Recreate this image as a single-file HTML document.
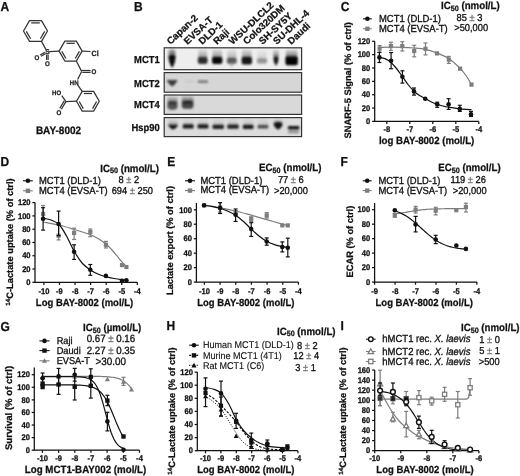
<!DOCTYPE html>
<html><head><meta charset="utf-8"><style>
html,body{margin:0;padding:0;background:#fff;}
svg{display:block;text-rendering:geometricPrecision;}
</style></head><body>
<svg width="520" height="476" viewBox="0 0 520 476" font-family="'Liberation Sans', Arial, sans-serif">
<rect width="520" height="476" fill="#fff"/>
<text font-size="12.0" font-weight="bold" fill="#111" stroke="#111" stroke-width="0.25" transform="translate(0.60 11.20) scale(1,1.08)">A</text>
<path d="M47.50,31.00 L41.50,41.39 L29.50,41.39 L23.50,31.00 L29.50,20.61 L41.50,20.61Z" fill="none" stroke="#333" stroke-width="1.25" stroke-linejoin="round"/>
<line x1="44.67" y1="31.32" x2="40.37" y2="38.78" stroke="#333" stroke-width="1.25"/>
<line x1="30.63" y1="38.78" x2="26.33" y2="31.32" stroke="#333" stroke-width="1.25"/>
<line x1="31.19" y1="22.89" x2="39.81" y2="22.89" stroke="#333" stroke-width="1.25"/>
<path d="M82.10,51.10 L76.35,61.06 L64.85,61.06 L59.10,51.10 L64.85,41.14 L76.35,41.14Z" fill="none" stroke="#333" stroke-width="1.25" stroke-linejoin="round"/>
<line x1="79.39" y1="51.41" x2="75.26" y2="58.56" stroke="#333" stroke-width="1.25"/>
<line x1="65.94" y1="58.56" x2="61.81" y2="51.41" stroke="#333" stroke-width="1.25"/>
<line x1="66.47" y1="43.33" x2="74.73" y2="43.33" stroke="#333" stroke-width="1.25"/>
<path d="M99.30,101.20 L93.60,111.07 L82.20,111.07 L76.50,101.20 L82.20,91.33 L93.60,91.33Z" fill="none" stroke="#333" stroke-width="1.25" stroke-linejoin="round"/>
<line x1="96.61" y1="101.51" x2="92.52" y2="108.59" stroke="#333" stroke-width="1.25"/>
<line x1="83.28" y1="108.59" x2="79.19" y2="101.51" stroke="#333" stroke-width="1.25"/>
<line x1="83.81" y1="93.50" x2="91.99" y2="93.50" stroke="#333" stroke-width="1.25"/>
<line x1="41.50" y1="41.39" x2="46.00" y2="49.60" stroke="#333" stroke-width="1.25"/>
<line x1="49.20" y1="51.60" x2="59.10" y2="51.10" stroke="#333" stroke-width="1.25"/>
<text font-size="6.6" font-weight="bold" text-anchor="middle" fill="#222" stroke="#222" stroke-width="0.25" transform="translate(47.50 54.30) scale(1,1.08)">S</text>
<line x1="44.90" y1="52.40" x2="40.20" y2="55.00" stroke="#333" stroke-width="1.25"/>
<line x1="45.60" y1="53.70" x2="40.90" y2="56.30" stroke="#333" stroke-width="1.25"/>
<text font-size="6.2" font-weight="bold" text-anchor="middle" fill="#222" stroke="#222" stroke-width="0.25" transform="translate(36.90 60.20) scale(1,1.08)">O</text>
<line x1="46.60" y1="54.60" x2="46.60" y2="60.00" stroke="#333" stroke-width="1.25"/>
<line x1="48.10" y1="54.60" x2="48.10" y2="60.00" stroke="#333" stroke-width="1.25"/>
<text font-size="6.2" font-weight="bold" text-anchor="middle" fill="#222" stroke="#222" stroke-width="0.25" transform="translate(47.30 65.80) scale(1,1.08)">O</text>
<line x1="82.10" y1="51.10" x2="90.60" y2="51.50" stroke="#333" stroke-width="1.25"/>
<text font-size="7.0" font-weight="bold" fill="#222" stroke="#222" stroke-width="0.25" transform="translate(91.60 55.60) scale(1,1.08)">Cl</text>
<line x1="76.35" y1="61.06" x2="81.60" y2="71.40" stroke="#333" stroke-width="1.25"/>
<line x1="81.60" y1="70.50" x2="90.60" y2="70.50" stroke="#333" stroke-width="1.25"/>
<line x1="82.40" y1="72.40" x2="90.60" y2="72.40" stroke="#333" stroke-width="1.25"/>
<text font-size="6.2" font-weight="bold" text-anchor="middle" fill="#222" stroke="#222" stroke-width="0.25" transform="translate(93.90 73.80) scale(1,1.08)">O</text>
<line x1="81.60" y1="71.40" x2="77.60" y2="79.60" stroke="#333" stroke-width="1.25"/>
<text font-size="6.0" font-weight="bold" text-anchor="middle" fill="#222" stroke="#222" stroke-width="0.25" transform="translate(74.20 84.60) scale(1,1.08)">HN</text>
<line x1="77.40" y1="84.60" x2="82.20" y2="91.33" stroke="#333" stroke-width="1.25"/>
<line x1="76.50" y1="101.20" x2="65.90" y2="101.60" stroke="#333" stroke-width="1.25"/>
<line x1="65.90" y1="101.60" x2="61.80" y2="95.60" stroke="#333" stroke-width="1.25"/>
<text font-size="6.0" font-weight="bold" text-anchor="middle" fill="#222" stroke="#222" stroke-width="0.25" transform="translate(56.60 94.50) scale(1,1.08)">HO</text>
<line x1="65.90" y1="101.60" x2="61.40" y2="109.20" stroke="#333" stroke-width="1.25"/>
<line x1="64.30" y1="100.80" x2="59.80" y2="108.40" stroke="#333" stroke-width="1.25"/>
<text font-size="6.2" font-weight="bold" text-anchor="middle" fill="#222" stroke="#222" stroke-width="0.25" transform="translate(59.00 114.60) scale(1,1.08)">O</text>
<text font-size="10.0" font-weight="bold" text-anchor="middle" fill="#111" stroke="#111" stroke-width="0.25" transform="translate(58.50 134.30) scale(1,1.08)">BAY-8002</text>
<text font-size="12.0" font-weight="bold" fill="#111" stroke="#111" stroke-width="0.25" transform="translate(134.00 10.80) scale(1,1.08)">B</text>
<text font-size="9.7" font-weight="bold" fill="#111" stroke="#111" stroke-width="0.25" transform="translate(170.50 45.00) rotate(-43) scale(1.0,1)">Capan-2</text>
<text font-size="9.7" font-weight="bold" fill="#111" stroke="#111" stroke-width="0.25" transform="translate(187.50 45.00) rotate(-43) scale(1.0,1)">EVSA-T</text>
<text font-size="9.7" font-weight="bold" fill="#111" stroke="#111" stroke-width="0.25" transform="translate(202.30 45.00) rotate(-43) scale(1.0,1)">DLD-1</text>
<text font-size="9.7" font-weight="bold" fill="#111" stroke="#111" stroke-width="0.25" transform="translate(217.00 45.00) rotate(-43) scale(1.0,1)">Raji</text>
<text font-size="9.7" font-weight="bold" fill="#111" stroke="#111" stroke-width="0.25" transform="translate(232.50 45.00) rotate(-43) scale(1.0,1)">WSU-DLCL2</text>
<text font-size="9.7" font-weight="bold" fill="#111" stroke="#111" stroke-width="0.25" transform="translate(246.80 45.00) rotate(-43) scale(1.0,1)">Colo320DM</text>
<text font-size="9.7" font-weight="bold" fill="#111" stroke="#111" stroke-width="0.25" transform="translate(262.50 45.00) rotate(-43) scale(1.0,1)">SH-SY5Y</text>
<text font-size="9.7" font-weight="bold" fill="#111" stroke="#111" stroke-width="0.25" transform="translate(276.80 45.00) rotate(-43) scale(1.0,1)">SU-DHL-4</text>
<text font-size="9.7" font-weight="bold" fill="#111" stroke="#111" stroke-width="0.25" transform="translate(291.30 45.00) rotate(-43) scale(1.0,1)">Daudi</text>
<defs><filter id="bl" x="-50%" y="-50%" width="200%" height="200%"><feGaussianBlur stdDeviation="1.1"/></filter><filter id="bl2" x="-50%" y="-50%" width="200%" height="200%"><feGaussianBlur stdDeviation="1.8"/></filter></defs>
<rect x="164.2" y="47.8" width="137.4" height="21.90" fill="#eeeeee" stroke="#333" stroke-width="1.2"/>
<text font-size="9.4" font-weight="bold" text-anchor="end" fill="#111" stroke="#111" stroke-width="0.25" transform="translate(159.60 63.25) scale(1,1.08)">MCT1</text>
<rect x="164.2" y="72.6" width="137.4" height="19.60" fill="#d6d6d6" stroke="#333" stroke-width="1.2"/>
<text font-size="9.4" font-weight="bold" text-anchor="end" fill="#111" stroke="#111" stroke-width="0.25" transform="translate(159.60 86.60) scale(1,1.08)">MCT2</text>
<rect x="164.2" y="95.0" width="137.4" height="19.40" fill="#d9d9d9" stroke="#333" stroke-width="1.2"/>
<text font-size="9.4" font-weight="bold" text-anchor="end" fill="#111" stroke="#111" stroke-width="0.25" transform="translate(159.60 108.40) scale(1,1.08)">MCT4</text>
<rect x="164.2" y="117.6" width="137.4" height="19.00" fill="#dcdcdc" stroke="#333" stroke-width="1.2"/>
<text font-size="9.4" font-weight="bold" text-anchor="end" fill="#111" stroke="#111" stroke-width="0.25" transform="translate(159.60 130.50) scale(1,1.08)">Hsp90</text>
<defs><linearGradient id="hg" x1="0" y1="0" x2="0" y2="1"><stop offset="0" stop-color="#000" stop-opacity="0.15"/><stop offset="1" stop-color="#000" stop-opacity="1"/></linearGradient></defs>
<rect x="168.20" y="49.20" width="7.40" height="8.80" rx="1.5" fill="url(#hg)" opacity="0.5" filter="url(#bl)"/>
<path d="M168.6,57.0 Q172.1,52.6 175.6,57.0 Q175.8,62.0 172.6,67.6 L171.8,67.6 Q168.4,62.0 168.6,57.0 Z" fill="#000" opacity="0.95" filter="url(#bl)"/>
<ellipse cx="172.10" cy="52.50" rx="2.75" ry="3.00" fill="#000" opacity="0.35" filter="url(#bl2)"/>
<rect x="198.30" y="49.60" width="8.80" height="9.60" rx="1.5" fill="url(#hg)" opacity="0.42" filter="url(#bl)"/>
<rect x="197.80" y="57.20" width="9.80" height="6.80" rx="2.2" fill="#000" opacity="0.8" filter="url(#bl)"/>
<rect x="212.50" y="49.60" width="9.40" height="9.40" rx="1.5" fill="url(#hg)" opacity="0.46" filter="url(#bl)"/>
<rect x="212.00" y="57.00" width="10.40" height="7.00" rx="2.2" fill="#000" opacity="0.97" filter="url(#bl)"/>
<rect x="227.30" y="49.60" width="9.00" height="10.40" rx="1.5" fill="url(#hg)" opacity="0.3" filter="url(#bl)"/>
<rect x="226.80" y="58.00" width="10.00" height="6.00" rx="2.2" fill="#000" opacity="0.58" filter="url(#bl)"/>
<rect x="242.10" y="49.60" width="9.40" height="9.40" rx="1.5" fill="url(#hg)" opacity="0.46" filter="url(#bl)"/>
<rect x="241.60" y="57.00" width="10.40" height="7.40" rx="2.2" fill="#000" opacity="0.9" filter="url(#bl)"/>
<rect x="257.30" y="49.60" width="9.40" height="10.80" rx="1.5" fill="url(#hg)" opacity="0.14" filter="url(#bl)"/>
<rect x="256.80" y="58.40" width="10.40" height="5.40" rx="2.2" fill="#000" opacity="0.34" filter="url(#bl)"/>
<rect x="285.90" y="49.60" width="11.40" height="8.80" rx="1.5" fill="url(#hg)" opacity="0.6" filter="url(#bl)"/>
<rect x="285.40" y="56.40" width="12.40" height="8.80" rx="2.2" fill="#000" opacity="1.0" filter="url(#bl)"/>
<ellipse cx="231.50" cy="65.50" rx="1.00" ry="2.00" fill="#000" opacity="0.25" filter="url(#bl)"/>
<rect x="273.20" y="49.40" width="5.60" height="8.10" rx="1.5" fill="url(#hg)" opacity="0.5" filter="url(#bl)"/>
<path d="M273.4,58.0 Q276.0,54.5 278.6,58.0 Q278.6,62.5 276.3,65.4 L275.7,65.4 Q273.4,62.5 273.4,58.0 Z" fill="#000" opacity="0.92" filter="url(#bl)"/>
<path d="M166.6,79.9 L177.6,79.9 Q175.8,84.4 172.2,86.6 Q168.6,84.4 166.6,79.9 Z" fill="#000" opacity="0.72" filter="url(#bl)"/>
<rect x="184.50" y="80.60" width="9.50" height="1.80" rx="1.0" fill="#000" opacity="0.06" filter="url(#bl)"/>
<rect x="197.60" y="80.30" width="10.60" height="2.60" rx="1.2" fill="#000" opacity="0.42" filter="url(#bl)"/>
<rect x="167.60" y="96.50" width="9.80" height="7.50" rx="1.5" fill="url(#hg)" opacity="0.55" filter="url(#bl)"/>
<rect x="167.40" y="101.50" width="10.20" height="8.30" rx="4.0" fill="#000" opacity="0.62" filter="url(#bl)"/>
<rect x="181.80" y="96.00" width="11.60" height="7.50" rx="1.5" fill="url(#hg)" opacity="0.65" filter="url(#bl)"/>
<rect x="181.60" y="101.00" width="12.00" height="7.80" rx="4.0" fill="#000" opacity="0.68" filter="url(#bl)"/>
<rect x="168.50" y="119.50" width="9.00" height="6.00" rx="1.5" fill="url(#hg)" opacity="0.28" filter="url(#bl)"/>
<path d="M168.0,124.8 L178.2,124.8 Q176.5,128.6 173.2,129.6 Q169.6,128.6 168.0,124.8 Z" fill="#000" opacity="0.92" filter="url(#bl)"/>
<rect x="183.30" y="119.00" width="9.80" height="6.80" rx="1.5" fill="url(#hg)" opacity="0.12" filter="url(#bl)"/>
<rect x="182.80" y="124.30" width="10.80" height="4.30" rx="1.2" fill="#000" opacity="0.88" filter="url(#bl)"/>
<rect x="198.10" y="119.00" width="9.80" height="6.80" rx="1.5" fill="url(#hg)" opacity="0.12" filter="url(#bl)"/>
<rect x="197.60" y="124.30" width="10.80" height="4.30" rx="1.2" fill="#000" opacity="0.88" filter="url(#bl)"/>
<rect x="213.00" y="119.00" width="10.40" height="7.20" rx="1.5" fill="url(#hg)" opacity="0.12" filter="url(#bl)"/>
<rect x="212.50" y="124.70" width="11.40" height="4.20" rx="1.2" fill="#000" opacity="0.85" filter="url(#bl)"/>
<rect x="227.80" y="119.00" width="10.40" height="7.00" rx="1.5" fill="url(#hg)" opacity="0.12" filter="url(#bl)"/>
<rect x="227.30" y="124.50" width="11.40" height="4.20" rx="1.2" fill="#000" opacity="0.85" filter="url(#bl)"/>
<rect x="243.30" y="119.00" width="9.70" height="7.20" rx="1.5" fill="url(#hg)" opacity="0.12" filter="url(#bl)"/>
<rect x="242.80" y="124.70" width="10.70" height="4.20" rx="1.2" fill="#000" opacity="0.88" filter="url(#bl)"/>
<rect x="258.10" y="119.00" width="9.70" height="7.40" rx="1.5" fill="url(#hg)" opacity="0.12" filter="url(#bl)"/>
<rect x="257.60" y="124.90" width="10.70" height="3.70" rx="1.2" fill="#000" opacity="0.65" filter="url(#bl)"/>
<rect x="274.00" y="119.50" width="8.20" height="5.50" rx="1.5" fill="url(#hg)" opacity="0.45" filter="url(#bl)"/>
<path d="M273.7,123.5 Q278.1,120.5 282.5,123.5 Q282.0,128.2 278.1,129.6 Q274.2,128.2 273.7,123.5 Z" fill="#000" opacity="0.9" filter="url(#bl)"/>
<rect x="287.90" y="126.10" width="11.40" height="3.40" rx="1.2" fill="#000" opacity="0.92" filter="url(#bl)"/>
<rect x="288.20" y="130.00" width="10.80" height="3.60" rx="1.2" fill="#000" opacity="0.3" filter="url(#bl)"/>
<text font-size="12.0" font-weight="bold" fill="#111" stroke="#111" stroke-width="0.25" transform="translate(340.80 10.80) scale(1,1.08)">C</text>
<line x1="363.00" y1="18.80" x2="371.80" y2="18.80" stroke="#111" stroke-width="1.1"/>
<circle cx="367.40" cy="18.80" r="2.3" fill="#111"/>
<text font-size="9.45" fill="#111" stroke="#111" stroke-width="0.3" transform="translate(379.00 21.80) scale(1,1.08)">MCT1 (DLD-1)</text>
<line x1="363.00" y1="28.80" x2="371.80" y2="28.80" stroke="#7d7d7d" stroke-width="1.1"/>
<rect x="365.21" y="26.62" width="4.37" height="4.37" fill="#7d7d7d"/>
<text font-size="9.45" fill="#111" stroke="#111" stroke-width="0.3" transform="translate(379.00 31.80) scale(1,1.08)">MCT4 (EVSA-T)</text>
<text transform="translate(441.10 9.40) scale(1,1.08)" font-size="9.7" font-weight="bold" fill="#111" stroke="#111" stroke-width="0.25">IC<tspan font-size="7.18" dy="1.5">50</tspan><tspan dy="-1.5"> (nmol/L)</tspan></text>
<text transform="translate(456.50 20.90) scale(1,1.08)" font-size="9.3" fill="#111" stroke="#111" stroke-width="0.3">85 <tspan fill="#777" stroke="#777">±</tspan> 3</text>
<text font-size="9.3" fill="#111" stroke="#111" stroke-width="0.3" transform="translate(454.20 31.30) scale(1,1.08)">&gt;50,000</text>
<path d="M374.70,41.30 L374.70,121.40 L478.80,121.40" fill="none" stroke="#111" stroke-width="1.25"/>
<line x1="372.10" y1="121.40" x2="374.70" y2="121.40" stroke="#111" stroke-width="1.25"/>
<text font-size="7.6" font-weight="bold" text-anchor="end" fill="#111" stroke="#111" stroke-width="0.25" transform="translate(370.30 124.10) scale(1,1.08)">0</text>
<line x1="372.10" y1="108.05" x2="374.70" y2="108.05" stroke="#111" stroke-width="1.25"/>
<text font-size="7.6" font-weight="bold" text-anchor="end" fill="#111" stroke="#111" stroke-width="0.25" transform="translate(370.30 110.75) scale(1,1.08)">20</text>
<line x1="372.10" y1="94.70" x2="374.70" y2="94.70" stroke="#111" stroke-width="1.25"/>
<text font-size="7.6" font-weight="bold" text-anchor="end" fill="#111" stroke="#111" stroke-width="0.25" transform="translate(370.30 97.40) scale(1,1.08)">40</text>
<line x1="372.10" y1="81.35" x2="374.70" y2="81.35" stroke="#111" stroke-width="1.25"/>
<text font-size="7.6" font-weight="bold" text-anchor="end" fill="#111" stroke="#111" stroke-width="0.25" transform="translate(370.30 84.05) scale(1,1.08)">60</text>
<line x1="372.10" y1="68.00" x2="374.70" y2="68.00" stroke="#111" stroke-width="1.25"/>
<text font-size="7.6" font-weight="bold" text-anchor="end" fill="#111" stroke="#111" stroke-width="0.25" transform="translate(370.30 70.70) scale(1,1.08)">80</text>
<line x1="372.10" y1="54.65" x2="374.70" y2="54.65" stroke="#111" stroke-width="1.25"/>
<text font-size="7.6" font-weight="bold" text-anchor="end" fill="#111" stroke="#111" stroke-width="0.25" transform="translate(370.30 57.35) scale(1,1.08)">100</text>
<line x1="372.10" y1="41.30" x2="374.70" y2="41.30" stroke="#111" stroke-width="1.25"/>
<text font-size="7.6" font-weight="bold" text-anchor="end" fill="#111" stroke="#111" stroke-width="0.25" transform="translate(370.30 44.00) scale(1,1.08)">120</text>
<line x1="386.80" y1="121.40" x2="386.80" y2="124.00" stroke="#111" stroke-width="1.25"/>
<text font-size="7.6" font-weight="bold" text-anchor="middle" fill="#111" stroke="#111" stroke-width="0.25" transform="translate(386.80 132.40) scale(1,1.08)">-8</text>
<line x1="409.80" y1="121.40" x2="409.80" y2="124.00" stroke="#111" stroke-width="1.25"/>
<text font-size="7.6" font-weight="bold" text-anchor="middle" fill="#111" stroke="#111" stroke-width="0.25" transform="translate(409.80 132.40) scale(1,1.08)">-7</text>
<line x1="432.80" y1="121.40" x2="432.80" y2="124.00" stroke="#111" stroke-width="1.25"/>
<text font-size="7.6" font-weight="bold" text-anchor="middle" fill="#111" stroke="#111" stroke-width="0.25" transform="translate(432.80 132.40) scale(1,1.08)">-6</text>
<line x1="455.80" y1="121.40" x2="455.80" y2="124.00" stroke="#111" stroke-width="1.25"/>
<text font-size="7.6" font-weight="bold" text-anchor="middle" fill="#111" stroke="#111" stroke-width="0.25" transform="translate(455.80 132.40) scale(1,1.08)">-5</text>
<line x1="478.80" y1="121.40" x2="478.80" y2="124.00" stroke="#111" stroke-width="1.25"/>
<text font-size="7.6" font-weight="bold" text-anchor="middle" fill="#111" stroke="#111" stroke-width="0.25" transform="translate(478.80 132.40) scale(1,1.08)">-4</text>
<text font-size="9.3" font-weight="bold" text-anchor="middle" fill="#111" stroke="#111" stroke-width="0.25" transform="translate(350.60 80.30) rotate(-90) scale(1.0,1)">SNARF-5 Signal (% of ctrl)</text>
<text font-size="9.65" font-weight="bold" text-anchor="middle" fill="#111" stroke="#111" stroke-width="0.25" transform="translate(426.60 144.40) scale(1,1.08)">log BAY-8002 (mol/L)</text>
<path d="M379.60,47.40 C381.50,47.37 387.22,47.22 391.00,47.20 C394.78,47.18 398.47,47.17 402.30,47.30 C406.13,47.43 410.13,47.65 414.00,48.00 C417.87,48.35 421.67,48.57 425.50,49.40 C429.33,50.23 433.12,51.47 437.00,53.00 C440.88,54.53 444.95,56.03 448.80,58.60 C452.65,61.17 457.23,65.58 460.10,68.40 C462.97,71.22 464.10,72.80 466.00,75.50 C467.90,78.20 470.58,83.08 471.50,84.60" fill="none" stroke="#7d7d7d" stroke-width="1.2" stroke-linejoin="round"/>
<path d="M379.60,57.40 C380.50,57.60 383.10,57.75 385.00,58.60 C386.90,59.45 389.08,60.85 391.00,62.50 C392.92,64.15 394.62,66.17 396.50,68.50 C398.38,70.83 400.38,73.83 402.30,76.50 C404.22,79.17 406.05,82.05 408.00,84.50 C409.95,86.95 412.08,89.37 414.00,91.20 C415.92,93.03 417.58,94.27 419.50,95.50 C421.42,96.73 423.58,97.55 425.50,98.60 C427.42,99.65 429.08,100.87 431.00,101.80 C432.92,102.73 435.00,103.50 437.00,104.20 C439.00,104.90 441.03,105.50 443.00,106.00 C444.97,106.50 445.97,106.73 448.80,107.20 C451.63,107.67 456.22,108.38 460.00,108.80 C463.78,109.22 469.58,109.55 471.50,109.70" fill="none" stroke="#111" stroke-width="1.2" stroke-linejoin="round"/>
<line x1="379.60" y1="45.50" x2="379.60" y2="52.40" stroke="#7d7d7d" stroke-width="1.2"/>
<line x1="377.60" y1="45.50" x2="381.60" y2="45.50" stroke="#7d7d7d" stroke-width="1.2"/>
<line x1="377.60" y1="52.40" x2="381.60" y2="52.40" stroke="#7d7d7d" stroke-width="1.2"/>
<line x1="390.90" y1="42.30" x2="390.90" y2="50.50" stroke="#7d7d7d" stroke-width="1.2"/>
<line x1="388.90" y1="42.30" x2="392.90" y2="42.30" stroke="#7d7d7d" stroke-width="1.2"/>
<line x1="388.90" y1="50.50" x2="392.90" y2="50.50" stroke="#7d7d7d" stroke-width="1.2"/>
<line x1="402.30" y1="41.70" x2="402.30" y2="51.00" stroke="#7d7d7d" stroke-width="1.2"/>
<line x1="400.30" y1="41.70" x2="404.30" y2="41.70" stroke="#7d7d7d" stroke-width="1.2"/>
<line x1="400.30" y1="51.00" x2="404.30" y2="51.00" stroke="#7d7d7d" stroke-width="1.2"/>
<line x1="414.20" y1="45.30" x2="414.20" y2="56.80" stroke="#7d7d7d" stroke-width="1.2"/>
<line x1="412.20" y1="45.30" x2="416.20" y2="45.30" stroke="#7d7d7d" stroke-width="1.2"/>
<line x1="412.20" y1="56.80" x2="416.20" y2="56.80" stroke="#7d7d7d" stroke-width="1.2"/>
<line x1="425.50" y1="43.00" x2="425.50" y2="54.90" stroke="#7d7d7d" stroke-width="1.2"/>
<line x1="423.50" y1="43.00" x2="427.50" y2="43.00" stroke="#7d7d7d" stroke-width="1.2"/>
<line x1="423.50" y1="54.90" x2="427.50" y2="54.90" stroke="#7d7d7d" stroke-width="1.2"/>
<line x1="448.80" y1="56.40" x2="448.80" y2="63.40" stroke="#7d7d7d" stroke-width="1.2"/>
<line x1="446.80" y1="56.40" x2="450.80" y2="56.40" stroke="#7d7d7d" stroke-width="1.2"/>
<line x1="446.80" y1="63.40" x2="450.80" y2="63.40" stroke="#7d7d7d" stroke-width="1.2"/>
<rect x="377.51" y="46.51" width="4.18" height="4.18" fill="#7d7d7d"/>
<rect x="388.81" y="44.01" width="4.18" height="4.18" fill="#7d7d7d"/>
<rect x="400.21" y="44.01" width="4.18" height="4.18" fill="#7d7d7d"/>
<rect x="412.11" y="48.91" width="4.18" height="4.18" fill="#7d7d7d"/>
<rect x="423.41" y="46.71" width="4.18" height="4.18" fill="#7d7d7d"/>
<rect x="434.91" y="51.31" width="4.18" height="4.18" fill="#7d7d7d"/>
<rect x="446.71" y="57.51" width="4.18" height="4.18" fill="#7d7d7d"/>
<rect x="458.01" y="66.61" width="4.18" height="4.18" fill="#7d7d7d"/>
<rect x="469.41" y="82.51" width="4.18" height="4.18" fill="#7d7d7d"/>
<line x1="379.40" y1="52.40" x2="379.40" y2="62.50" stroke="#111" stroke-width="1.2"/>
<line x1="377.40" y1="52.40" x2="381.40" y2="52.40" stroke="#111" stroke-width="1.2"/>
<line x1="377.40" y1="62.50" x2="381.40" y2="62.50" stroke="#111" stroke-width="1.2"/>
<line x1="391.10" y1="52.60" x2="391.10" y2="68.70" stroke="#111" stroke-width="1.2"/>
<line x1="389.10" y1="52.60" x2="393.10" y2="52.60" stroke="#111" stroke-width="1.2"/>
<line x1="389.10" y1="68.70" x2="393.10" y2="68.70" stroke="#111" stroke-width="1.2"/>
<line x1="402.40" y1="70.80" x2="402.40" y2="83.10" stroke="#111" stroke-width="1.2"/>
<line x1="400.40" y1="70.80" x2="404.40" y2="70.80" stroke="#111" stroke-width="1.2"/>
<line x1="400.40" y1="83.10" x2="404.40" y2="83.10" stroke="#111" stroke-width="1.2"/>
<line x1="414.00" y1="88.00" x2="414.00" y2="95.10" stroke="#111" stroke-width="1.2"/>
<line x1="412.00" y1="88.00" x2="416.00" y2="88.00" stroke="#111" stroke-width="1.2"/>
<line x1="412.00" y1="95.10" x2="416.00" y2="95.10" stroke="#111" stroke-width="1.2"/>
<line x1="437.20" y1="102.20" x2="437.20" y2="107.30" stroke="#111" stroke-width="1.2"/>
<line x1="435.20" y1="102.20" x2="439.20" y2="102.20" stroke="#111" stroke-width="1.2"/>
<line x1="435.20" y1="107.30" x2="439.20" y2="107.30" stroke="#111" stroke-width="1.2"/>
<line x1="448.60" y1="98.70" x2="448.60" y2="109.40" stroke="#111" stroke-width="1.2"/>
<line x1="446.60" y1="98.70" x2="450.60" y2="98.70" stroke="#111" stroke-width="1.2"/>
<line x1="446.60" y1="109.40" x2="450.60" y2="109.40" stroke="#111" stroke-width="1.2"/>
<line x1="459.80" y1="105.30" x2="459.80" y2="111.40" stroke="#111" stroke-width="1.2"/>
<line x1="457.80" y1="105.30" x2="461.80" y2="105.30" stroke="#111" stroke-width="1.2"/>
<line x1="457.80" y1="111.40" x2="461.80" y2="111.40" stroke="#111" stroke-width="1.2"/>
<line x1="471.00" y1="111.40" x2="471.00" y2="116.50" stroke="#111" stroke-width="1.2"/>
<line x1="469.00" y1="111.40" x2="473.00" y2="111.40" stroke="#111" stroke-width="1.2"/>
<line x1="469.00" y1="116.50" x2="473.00" y2="116.50" stroke="#111" stroke-width="1.2"/>
<circle cx="379.40" cy="57.40" r="2.3" fill="#111"/>
<circle cx="391.10" cy="60.80" r="2.3" fill="#111"/>
<circle cx="402.40" cy="76.70" r="2.3" fill="#111"/>
<circle cx="414.00" cy="91.40" r="2.3" fill="#111"/>
<circle cx="425.20" cy="98.70" r="2.3" fill="#111"/>
<circle cx="437.20" cy="104.30" r="2.3" fill="#111"/>
<circle cx="448.60" cy="104.30" r="2.3" fill="#111"/>
<circle cx="459.80" cy="108.90" r="2.3" fill="#111"/>
<circle cx="471.00" cy="114.40" r="2.3" fill="#111"/>
<text font-size="12.0" font-weight="bold" fill="#111" stroke="#111" stroke-width="0.25" transform="translate(0.50 165.60) scale(1,1.08)">D</text>
<line x1="23.00" y1="180.80" x2="32.80" y2="180.80" stroke="#111" stroke-width="1.1"/>
<circle cx="27.90" cy="180.80" r="2.3" fill="#111"/>
<text font-size="9.45" fill="#111" stroke="#111" stroke-width="0.3" transform="translate(39.00 183.80) scale(1,1.08)">MCT1 (DLD-1)</text>
<line x1="23.00" y1="190.80" x2="32.80" y2="190.80" stroke="#7d7d7d" stroke-width="1.1"/>
<rect x="25.71" y="188.62" width="4.37" height="4.37" fill="#7d7d7d"/>
<text font-size="9.45" fill="#111" stroke="#111" stroke-width="0.3" transform="translate(39.00 193.80) scale(1,1.08)">MCT4 (EVSA-T)</text>
<text transform="translate(100.30 171.50) scale(1,1.08)" font-size="9.7" font-weight="bold" fill="#111" stroke="#111" stroke-width="0.25">IC<tspan font-size="7.18" dy="1.5">50</tspan><tspan dy="-1.5"> (nmol/L)</tspan></text>
<text transform="translate(118.50 182.80) scale(1,1.08)" font-size="9.3" fill="#111" stroke="#111" stroke-width="0.3">8 <tspan fill="#777" stroke="#777">±</tspan> 2</text>
<text transform="translate(111.70 193.90) scale(1,1.08)" font-size="9.3" fill="#111" stroke="#111" stroke-width="0.3">694 <tspan fill="#777" stroke="#777">±</tspan> 250</text>
<path d="M35.00,202.62 L35.00,282.30 L137.30,282.30" fill="none" stroke="#111" stroke-width="1.25"/>
<line x1="32.40" y1="282.30" x2="35.00" y2="282.30" stroke="#111" stroke-width="1.25"/>
<text font-size="7.6" font-weight="bold" text-anchor="end" fill="#111" stroke="#111" stroke-width="0.25" transform="translate(30.60 285.00) scale(1,1.08)">0</text>
<line x1="32.40" y1="269.02" x2="35.00" y2="269.02" stroke="#111" stroke-width="1.25"/>
<text font-size="7.6" font-weight="bold" text-anchor="end" fill="#111" stroke="#111" stroke-width="0.25" transform="translate(30.60 271.72) scale(1,1.08)">20</text>
<line x1="32.40" y1="255.74" x2="35.00" y2="255.74" stroke="#111" stroke-width="1.25"/>
<text font-size="7.6" font-weight="bold" text-anchor="end" fill="#111" stroke="#111" stroke-width="0.25" transform="translate(30.60 258.44) scale(1,1.08)">40</text>
<line x1="32.40" y1="242.46" x2="35.00" y2="242.46" stroke="#111" stroke-width="1.25"/>
<text font-size="7.6" font-weight="bold" text-anchor="end" fill="#111" stroke="#111" stroke-width="0.25" transform="translate(30.60 245.16) scale(1,1.08)">60</text>
<line x1="32.40" y1="229.18" x2="35.00" y2="229.18" stroke="#111" stroke-width="1.25"/>
<text font-size="7.6" font-weight="bold" text-anchor="end" fill="#111" stroke="#111" stroke-width="0.25" transform="translate(30.60 231.88) scale(1,1.08)">80</text>
<line x1="32.40" y1="215.90" x2="35.00" y2="215.90" stroke="#111" stroke-width="1.25"/>
<text font-size="7.6" font-weight="bold" text-anchor="end" fill="#111" stroke="#111" stroke-width="0.25" transform="translate(30.60 218.60) scale(1,1.08)">100</text>
<line x1="32.40" y1="202.62" x2="35.00" y2="202.62" stroke="#111" stroke-width="1.25"/>
<text font-size="7.6" font-weight="bold" text-anchor="end" fill="#111" stroke="#111" stroke-width="0.25" transform="translate(30.60 205.32) scale(1,1.08)">120</text>
<line x1="43.90" y1="282.30" x2="43.90" y2="284.90" stroke="#111" stroke-width="1.25"/>
<text font-size="7.6" font-weight="bold" text-anchor="middle" fill="#111" stroke="#111" stroke-width="0.25" transform="translate(43.90 293.50) scale(1,1.08)">-10</text>
<line x1="59.47" y1="282.30" x2="59.47" y2="284.90" stroke="#111" stroke-width="1.25"/>
<text font-size="7.6" font-weight="bold" text-anchor="middle" fill="#111" stroke="#111" stroke-width="0.25" transform="translate(59.47 293.50) scale(1,1.08)">-9</text>
<line x1="75.04" y1="282.30" x2="75.04" y2="284.90" stroke="#111" stroke-width="1.25"/>
<text font-size="7.6" font-weight="bold" text-anchor="middle" fill="#111" stroke="#111" stroke-width="0.25" transform="translate(75.04 293.50) scale(1,1.08)">-8</text>
<line x1="90.61" y1="282.30" x2="90.61" y2="284.90" stroke="#111" stroke-width="1.25"/>
<text font-size="7.6" font-weight="bold" text-anchor="middle" fill="#111" stroke="#111" stroke-width="0.25" transform="translate(90.61 293.50) scale(1,1.08)">-7</text>
<line x1="106.18" y1="282.30" x2="106.18" y2="284.90" stroke="#111" stroke-width="1.25"/>
<text font-size="7.6" font-weight="bold" text-anchor="middle" fill="#111" stroke="#111" stroke-width="0.25" transform="translate(106.18 293.50) scale(1,1.08)">-6</text>
<line x1="121.75" y1="282.30" x2="121.75" y2="284.90" stroke="#111" stroke-width="1.25"/>
<text font-size="7.6" font-weight="bold" text-anchor="middle" fill="#111" stroke="#111" stroke-width="0.25" transform="translate(121.75 293.50) scale(1,1.08)">-5</text>
<line x1="137.32" y1="282.30" x2="137.32" y2="284.90" stroke="#111" stroke-width="1.25"/>
<text font-size="7.6" font-weight="bold" text-anchor="middle" fill="#111" stroke="#111" stroke-width="0.25" transform="translate(137.32 293.50) scale(1,1.08)">-4</text>
<text font-size="9.3" font-weight="bold" text-anchor="middle" fill="#111" stroke="#111" stroke-width="0.25" transform="translate(13.00 242.00) rotate(-90) scale(1.0,1)"><tspan font-size="6.2" dy="-3.2">14</tspan><tspan dy="3.2">C-Lactate uptake (% of ctrl)</tspan></text>
<text font-size="9.5" font-weight="bold" text-anchor="middle" fill="#111" stroke="#111" stroke-width="0.25" transform="translate(84.50 305.60) scale(1,1.08)">Log BAY-8002 (mol/L)</text>
<path d="M43.10,222.00 C45.77,222.50 53.87,223.75 59.10,225.00 C64.33,226.25 69.37,227.92 74.50,229.50 C79.63,231.08 85.98,233.00 89.90,234.50 C93.82,236.00 95.28,236.88 98.00,238.50 C100.72,240.12 103.87,242.28 106.20,244.20 C108.53,246.12 110.23,248.08 112.00,250.00 C113.77,251.92 115.30,253.90 116.80,255.70 C118.30,257.50 119.57,259.17 121.00,260.80 C122.43,262.43 124.67,264.72 125.40,265.50" fill="none" stroke="#7d7d7d" stroke-width="1.2" stroke-linejoin="round"/>
<path d="M43.10,218.20 C44.42,218.50 48.33,218.95 51.00,220.00 C53.67,221.05 56.52,221.83 59.10,224.50 C61.68,227.17 63.93,231.45 66.50,236.00 C69.07,240.55 71.83,247.22 74.50,251.80 C77.17,256.38 79.78,260.43 82.50,263.50 C85.22,266.57 88.13,268.40 90.80,270.20 C93.47,272.00 95.93,273.20 98.50,274.30 C101.07,275.40 103.62,276.10 106.20,276.80 C108.78,277.50 111.43,278.03 114.00,278.50 C116.57,278.97 119.53,279.35 121.60,279.60 C123.67,279.85 125.60,279.93 126.40,280.00" fill="none" stroke="#111" stroke-width="1.2" stroke-linejoin="round"/>
<line x1="43.10" y1="205.50" x2="43.10" y2="219.70" stroke="#7d7d7d" stroke-width="1.2"/>
<line x1="41.10" y1="205.50" x2="45.10" y2="205.50" stroke="#7d7d7d" stroke-width="1.2"/>
<line x1="41.10" y1="219.70" x2="45.10" y2="219.70" stroke="#7d7d7d" stroke-width="1.2"/>
<line x1="58.60" y1="224.40" x2="58.60" y2="239.90" stroke="#7d7d7d" stroke-width="1.2"/>
<line x1="56.60" y1="224.40" x2="60.60" y2="224.40" stroke="#7d7d7d" stroke-width="1.2"/>
<line x1="56.60" y1="239.90" x2="60.60" y2="239.90" stroke="#7d7d7d" stroke-width="1.2"/>
<line x1="74.10" y1="228.20" x2="74.10" y2="239.50" stroke="#7d7d7d" stroke-width="1.2"/>
<line x1="72.10" y1="228.20" x2="76.10" y2="228.20" stroke="#7d7d7d" stroke-width="1.2"/>
<line x1="72.10" y1="239.50" x2="76.10" y2="239.50" stroke="#7d7d7d" stroke-width="1.2"/>
<line x1="90.30" y1="229.00" x2="90.30" y2="236.70" stroke="#7d7d7d" stroke-width="1.2"/>
<line x1="88.30" y1="229.00" x2="92.30" y2="229.00" stroke="#7d7d7d" stroke-width="1.2"/>
<line x1="88.30" y1="236.70" x2="92.30" y2="236.70" stroke="#7d7d7d" stroke-width="1.2"/>
<line x1="105.90" y1="241.40" x2="105.90" y2="248.00" stroke="#7d7d7d" stroke-width="1.2"/>
<line x1="103.90" y1="241.40" x2="107.90" y2="241.40" stroke="#7d7d7d" stroke-width="1.2"/>
<line x1="103.90" y1="248.00" x2="107.90" y2="248.00" stroke="#7d7d7d" stroke-width="1.2"/>
<rect x="41.01" y="211.91" width="4.18" height="4.18" fill="#7d7d7d"/>
<rect x="56.51" y="233.61" width="4.18" height="4.18" fill="#7d7d7d"/>
<rect x="72.01" y="230.81" width="4.18" height="4.18" fill="#7d7d7d"/>
<rect x="88.21" y="229.91" width="4.18" height="4.18" fill="#7d7d7d"/>
<rect x="103.81" y="242.71" width="4.18" height="4.18" fill="#7d7d7d"/>
<rect x="119.91" y="263.01" width="4.18" height="4.18" fill="#7d7d7d"/>
<rect x="124.31" y="264.91" width="4.18" height="4.18" fill="#7d7d7d"/>
<line x1="43.10" y1="207.70" x2="43.10" y2="230.10" stroke="#111" stroke-width="1.2"/>
<line x1="41.10" y1="207.70" x2="45.10" y2="207.70" stroke="#111" stroke-width="1.2"/>
<line x1="41.10" y1="230.10" x2="45.10" y2="230.10" stroke="#111" stroke-width="1.2"/>
<line x1="58.60" y1="211.10" x2="58.60" y2="235.70" stroke="#111" stroke-width="1.2"/>
<line x1="56.60" y1="211.10" x2="60.60" y2="211.10" stroke="#111" stroke-width="1.2"/>
<line x1="56.60" y1="235.70" x2="60.60" y2="235.70" stroke="#111" stroke-width="1.2"/>
<line x1="74.10" y1="244.80" x2="74.10" y2="259.40" stroke="#111" stroke-width="1.2"/>
<line x1="72.10" y1="244.80" x2="76.10" y2="244.80" stroke="#111" stroke-width="1.2"/>
<line x1="72.10" y1="259.40" x2="76.10" y2="259.40" stroke="#111" stroke-width="1.2"/>
<line x1="90.30" y1="264.50" x2="90.30" y2="275.30" stroke="#111" stroke-width="1.2"/>
<line x1="88.30" y1="264.50" x2="92.30" y2="264.50" stroke="#111" stroke-width="1.2"/>
<line x1="88.30" y1="275.30" x2="92.30" y2="275.30" stroke="#111" stroke-width="1.2"/>
<circle cx="43.10" cy="218.70" r="2.3" fill="#111"/>
<circle cx="58.60" cy="224.00" r="2.3" fill="#111"/>
<circle cx="74.10" cy="251.80" r="2.3" fill="#111"/>
<circle cx="90.30" cy="269.80" r="2.3" fill="#111"/>
<circle cx="105.90" cy="275.90" r="2.3" fill="#111"/>
<circle cx="122.00" cy="280.80" r="2.3" fill="#111"/>
<circle cx="126.40" cy="280.20" r="2.3" fill="#111"/>
<text font-size="12.0" font-weight="bold" fill="#111" stroke="#111" stroke-width="0.25" transform="translate(167.30 165.60) scale(1,1.08)">E</text>
<line x1="185.00" y1="180.80" x2="195.00" y2="180.80" stroke="#111" stroke-width="1.1"/>
<circle cx="190.00" cy="180.80" r="2.3" fill="#111"/>
<text font-size="9.45" fill="#111" stroke="#111" stroke-width="0.3" transform="translate(200.40 183.60) scale(1,1.08)">MCT1 (DLD-1)</text>
<line x1="185.00" y1="190.60" x2="195.00" y2="190.60" stroke="#7d7d7d" stroke-width="1.1"/>
<rect x="187.81" y="188.41" width="4.37" height="4.37" fill="#7d7d7d"/>
<text font-size="9.45" fill="#111" stroke="#111" stroke-width="0.3" transform="translate(200.40 193.40) scale(1,1.08)">MCT4 (EVSA-T)</text>
<text transform="translate(259.10 171.30) scale(1,1.08)" font-size="9.7" font-weight="bold" fill="#111" stroke="#111" stroke-width="0.25">EC<tspan font-size="7.18" dy="1.5">50</tspan><tspan dy="-1.5"> (nmol/L)</tspan></text>
<text transform="translate(277.90 183.00) scale(1,1.08)" font-size="9.3" fill="#111" stroke="#111" stroke-width="0.3">77 <tspan fill="#777" stroke="#777">±</tspan> 6</text>
<text font-size="9.3" fill="#111" stroke="#111" stroke-width="0.3" transform="translate(274.00 193.60) scale(1,1.08)">&gt;20,000</text>
<path d="M196.40,203.08 L196.40,282.10 L298.40,282.10" fill="none" stroke="#111" stroke-width="1.25"/>
<line x1="193.80" y1="282.10" x2="196.40" y2="282.10" stroke="#111" stroke-width="1.25"/>
<text font-size="7.6" font-weight="bold" text-anchor="end" fill="#111" stroke="#111" stroke-width="0.25" transform="translate(192.00 284.80) scale(1,1.08)">0</text>
<line x1="193.80" y1="267.64" x2="196.40" y2="267.64" stroke="#111" stroke-width="1.25"/>
<text font-size="7.6" font-weight="bold" text-anchor="end" fill="#111" stroke="#111" stroke-width="0.25" transform="translate(192.00 270.34) scale(1,1.08)">20</text>
<line x1="193.80" y1="253.18" x2="196.40" y2="253.18" stroke="#111" stroke-width="1.25"/>
<text font-size="7.6" font-weight="bold" text-anchor="end" fill="#111" stroke="#111" stroke-width="0.25" transform="translate(192.00 255.88) scale(1,1.08)">40</text>
<line x1="193.80" y1="238.72" x2="196.40" y2="238.72" stroke="#111" stroke-width="1.25"/>
<text font-size="7.6" font-weight="bold" text-anchor="end" fill="#111" stroke="#111" stroke-width="0.25" transform="translate(192.00 241.42) scale(1,1.08)">60</text>
<line x1="193.80" y1="224.26" x2="196.40" y2="224.26" stroke="#111" stroke-width="1.25"/>
<text font-size="7.6" font-weight="bold" text-anchor="end" fill="#111" stroke="#111" stroke-width="0.25" transform="translate(192.00 226.96) scale(1,1.08)">80</text>
<line x1="193.80" y1="209.80" x2="196.40" y2="209.80" stroke="#111" stroke-width="1.25"/>
<text font-size="7.6" font-weight="bold" text-anchor="end" fill="#111" stroke="#111" stroke-width="0.25" transform="translate(192.00 212.50) scale(1,1.08)">100</text>
<line x1="204.40" y1="282.10" x2="204.40" y2="284.70" stroke="#111" stroke-width="1.25"/>
<text font-size="7.6" font-weight="bold" text-anchor="middle" fill="#111" stroke="#111" stroke-width="0.25" transform="translate(204.40 293.90) scale(1,1.08)">-10</text>
<line x1="220.07" y1="282.10" x2="220.07" y2="284.70" stroke="#111" stroke-width="1.25"/>
<text font-size="7.6" font-weight="bold" text-anchor="middle" fill="#111" stroke="#111" stroke-width="0.25" transform="translate(220.07 293.90) scale(1,1.08)">-9</text>
<line x1="235.74" y1="282.10" x2="235.74" y2="284.70" stroke="#111" stroke-width="1.25"/>
<text font-size="7.6" font-weight="bold" text-anchor="middle" fill="#111" stroke="#111" stroke-width="0.25" transform="translate(235.74 293.90) scale(1,1.08)">-8</text>
<line x1="251.41" y1="282.10" x2="251.41" y2="284.70" stroke="#111" stroke-width="1.25"/>
<text font-size="7.6" font-weight="bold" text-anchor="middle" fill="#111" stroke="#111" stroke-width="0.25" transform="translate(251.41 293.90) scale(1,1.08)">-7</text>
<line x1="267.08" y1="282.10" x2="267.08" y2="284.70" stroke="#111" stroke-width="1.25"/>
<text font-size="7.6" font-weight="bold" text-anchor="middle" fill="#111" stroke="#111" stroke-width="0.25" transform="translate(267.08 293.90) scale(1,1.08)">-6</text>
<line x1="282.75" y1="282.10" x2="282.75" y2="284.70" stroke="#111" stroke-width="1.25"/>
<text font-size="7.6" font-weight="bold" text-anchor="middle" fill="#111" stroke="#111" stroke-width="0.25" transform="translate(282.75 293.90) scale(1,1.08)">-5</text>
<line x1="298.42" y1="282.10" x2="298.42" y2="284.70" stroke="#111" stroke-width="1.25"/>
<text font-size="7.6" font-weight="bold" text-anchor="middle" fill="#111" stroke="#111" stroke-width="0.25" transform="translate(298.42 293.90) scale(1,1.08)">-4</text>
<text font-size="9.3" font-weight="bold" text-anchor="middle" fill="#111" stroke="#111" stroke-width="0.25" transform="translate(173.40 240.50) rotate(-90) scale(1.0,1)">Lactate export (% of ctrl)</text>
<text font-size="9.5" font-weight="bold" text-anchor="middle" fill="#111" stroke="#111" stroke-width="0.25" transform="translate(245.80 305.60) scale(1,1.08)">Log BAY-8002 (mol/L)</text>
<path d="M204.10,205.50 C206.77,205.88 214.85,206.88 220.10,207.80 C225.35,208.72 230.42,209.77 235.60,211.00 C240.78,212.23 246.02,213.77 251.20,215.20 C256.38,216.63 261.52,218.10 266.70,219.60 C271.88,221.10 278.72,223.17 282.30,224.20 C285.88,225.23 287.22,225.53 288.20,225.80" fill="none" stroke="#7d7d7d" stroke-width="1.2" stroke-linejoin="round"/>
<path d="M204.10,205.30 C205.42,205.47 209.33,205.80 212.00,206.30 C214.67,206.80 217.43,207.48 220.10,208.30 C222.77,209.12 225.42,210.05 228.00,211.20 C230.58,212.35 233.02,213.48 235.60,215.20 C238.18,216.92 240.90,219.20 243.50,221.50 C246.10,223.80 248.62,226.58 251.20,229.00 C253.78,231.42 256.42,233.95 259.00,236.00 C261.58,238.05 264.12,239.87 266.70,241.30 C269.28,242.73 271.90,243.72 274.50,244.60 C277.10,245.48 280.08,246.12 282.30,246.60 C284.52,247.08 286.88,247.35 287.80,247.50" fill="none" stroke="#111" stroke-width="1.2" stroke-linejoin="round"/>
<line x1="220.10" y1="202.60" x2="220.10" y2="212.00" stroke="#7d7d7d" stroke-width="1.2"/>
<line x1="218.10" y1="202.60" x2="222.10" y2="202.60" stroke="#7d7d7d" stroke-width="1.2"/>
<line x1="218.10" y1="212.00" x2="222.10" y2="212.00" stroke="#7d7d7d" stroke-width="1.2"/>
<line x1="251.20" y1="216.80" x2="251.20" y2="221.60" stroke="#7d7d7d" stroke-width="1.2"/>
<line x1="249.20" y1="216.80" x2="253.20" y2="216.80" stroke="#7d7d7d" stroke-width="1.2"/>
<line x1="249.20" y1="221.60" x2="253.20" y2="221.60" stroke="#7d7d7d" stroke-width="1.2"/>
<line x1="266.70" y1="212.60" x2="266.70" y2="218.10" stroke="#7d7d7d" stroke-width="1.2"/>
<line x1="264.70" y1="212.60" x2="268.70" y2="212.60" stroke="#7d7d7d" stroke-width="1.2"/>
<line x1="264.70" y1="218.10" x2="268.70" y2="218.10" stroke="#7d7d7d" stroke-width="1.2"/>
<rect x="202.01" y="203.41" width="4.18" height="4.18" fill="#7d7d7d"/>
<rect x="218.01" y="205.31" width="4.18" height="4.18" fill="#7d7d7d"/>
<rect x="233.51" y="210.01" width="4.18" height="4.18" fill="#7d7d7d"/>
<rect x="249.11" y="216.91" width="4.18" height="4.18" fill="#7d7d7d"/>
<rect x="264.61" y="213.31" width="4.18" height="4.18" fill="#7d7d7d"/>
<rect x="280.21" y="223.31" width="4.18" height="4.18" fill="#7d7d7d"/>
<rect x="285.71" y="223.31" width="4.18" height="4.18" fill="#7d7d7d"/>
<line x1="220.10" y1="202.60" x2="220.10" y2="213.50" stroke="#111" stroke-width="1.2"/>
<line x1="218.10" y1="202.60" x2="222.10" y2="202.60" stroke="#111" stroke-width="1.2"/>
<line x1="218.10" y1="213.50" x2="222.10" y2="213.50" stroke="#111" stroke-width="1.2"/>
<line x1="235.60" y1="209.00" x2="235.60" y2="221.40" stroke="#111" stroke-width="1.2"/>
<line x1="233.60" y1="209.00" x2="237.60" y2="209.00" stroke="#111" stroke-width="1.2"/>
<line x1="233.60" y1="221.40" x2="237.60" y2="221.40" stroke="#111" stroke-width="1.2"/>
<line x1="251.20" y1="222.70" x2="251.20" y2="236.40" stroke="#111" stroke-width="1.2"/>
<line x1="249.20" y1="222.70" x2="253.20" y2="222.70" stroke="#111" stroke-width="1.2"/>
<line x1="249.20" y1="236.40" x2="253.20" y2="236.40" stroke="#111" stroke-width="1.2"/>
<line x1="266.70" y1="237.90" x2="266.70" y2="245.20" stroke="#111" stroke-width="1.2"/>
<line x1="264.70" y1="237.90" x2="268.70" y2="237.90" stroke="#111" stroke-width="1.2"/>
<line x1="264.70" y1="245.20" x2="268.70" y2="245.20" stroke="#111" stroke-width="1.2"/>
<line x1="282.30" y1="241.90" x2="282.30" y2="251.90" stroke="#111" stroke-width="1.2"/>
<line x1="280.30" y1="241.90" x2="284.30" y2="241.90" stroke="#111" stroke-width="1.2"/>
<line x1="280.30" y1="251.90" x2="284.30" y2="251.90" stroke="#111" stroke-width="1.2"/>
<line x1="287.80" y1="238.20" x2="287.80" y2="256.90" stroke="#111" stroke-width="1.2"/>
<line x1="285.80" y1="238.20" x2="289.80" y2="238.20" stroke="#111" stroke-width="1.2"/>
<line x1="285.80" y1="256.90" x2="289.80" y2="256.90" stroke="#111" stroke-width="1.2"/>
<circle cx="204.10" cy="205.30" r="2.3" fill="#111"/>
<circle cx="220.10" cy="208.10" r="2.3" fill="#111"/>
<circle cx="235.60" cy="214.80" r="2.3" fill="#111"/>
<circle cx="251.20" cy="229.10" r="2.3" fill="#111"/>
<circle cx="266.70" cy="241.50" r="2.3" fill="#111"/>
<circle cx="282.30" cy="247.00" r="2.3" fill="#111"/>
<circle cx="287.80" cy="247.70" r="2.3" fill="#111"/>
<text font-size="12.0" font-weight="bold" fill="#111" stroke="#111" stroke-width="0.25" transform="translate(340.60 165.60) scale(1,1.08)">F</text>
<line x1="362.70" y1="180.80" x2="371.70" y2="180.80" stroke="#111" stroke-width="1.1"/>
<circle cx="367.20" cy="180.80" r="2.3" fill="#111"/>
<text font-size="9.45" fill="#111" stroke="#111" stroke-width="0.3" transform="translate(378.40 183.90) scale(1,1.08)">MCT1 (DLD-1)</text>
<line x1="362.70" y1="190.60" x2="371.70" y2="190.60" stroke="#7d7d7d" stroke-width="1.1"/>
<rect x="365.01" y="188.41" width="4.37" height="4.37" fill="#7d7d7d"/>
<text font-size="9.45" fill="#111" stroke="#111" stroke-width="0.3" transform="translate(378.40 193.60) scale(1,1.08)">MCT4 (EVSA-T)</text>
<text transform="translate(438.30 171.30) scale(1,1.08)" font-size="9.7" font-weight="bold" fill="#111" stroke="#111" stroke-width="0.25">EC<tspan font-size="7.18" dy="1.5">50</tspan><tspan dy="-1.5"> (nmol/L)</tspan></text>
<text transform="translate(450.40 183.00) scale(1,1.08)" font-size="9.3" fill="#111" stroke="#111" stroke-width="0.3">119 <tspan fill="#777" stroke="#777">±</tspan> 26</text>
<text font-size="9.3" fill="#111" stroke="#111" stroke-width="0.3" transform="translate(452.70 193.60) scale(1,1.08)">&gt;20,000</text>
<path d="M374.60,202.97 L374.60,282.10 L476.90,282.10" fill="none" stroke="#111" stroke-width="1.25"/>
<line x1="372.00" y1="282.10" x2="374.60" y2="282.10" stroke="#111" stroke-width="1.25"/>
<text font-size="7.6" font-weight="bold" text-anchor="end" fill="#111" stroke="#111" stroke-width="0.25" transform="translate(370.20 284.80) scale(1,1.08)">0</text>
<line x1="372.00" y1="267.62" x2="374.60" y2="267.62" stroke="#111" stroke-width="1.25"/>
<text font-size="7.6" font-weight="bold" text-anchor="end" fill="#111" stroke="#111" stroke-width="0.25" transform="translate(370.20 270.32) scale(1,1.08)">20</text>
<line x1="372.00" y1="253.14" x2="374.60" y2="253.14" stroke="#111" stroke-width="1.25"/>
<text font-size="7.6" font-weight="bold" text-anchor="end" fill="#111" stroke="#111" stroke-width="0.25" transform="translate(370.20 255.84) scale(1,1.08)">40</text>
<line x1="372.00" y1="238.66" x2="374.60" y2="238.66" stroke="#111" stroke-width="1.25"/>
<text font-size="7.6" font-weight="bold" text-anchor="end" fill="#111" stroke="#111" stroke-width="0.25" transform="translate(370.20 241.36) scale(1,1.08)">60</text>
<line x1="372.00" y1="224.18" x2="374.60" y2="224.18" stroke="#111" stroke-width="1.25"/>
<text font-size="7.6" font-weight="bold" text-anchor="end" fill="#111" stroke="#111" stroke-width="0.25" transform="translate(370.20 226.88) scale(1,1.08)">80</text>
<line x1="372.00" y1="209.70" x2="374.60" y2="209.70" stroke="#111" stroke-width="1.25"/>
<text font-size="7.6" font-weight="bold" text-anchor="end" fill="#111" stroke="#111" stroke-width="0.25" transform="translate(370.20 212.40) scale(1,1.08)">100</text>
<line x1="374.60" y1="282.10" x2="374.60" y2="284.70" stroke="#111" stroke-width="1.25"/>
<text font-size="7.6" font-weight="bold" text-anchor="middle" fill="#111" stroke="#111" stroke-width="0.25" transform="translate(374.60 293.90) scale(1,1.08)">-9</text>
<line x1="395.05" y1="282.10" x2="395.05" y2="284.70" stroke="#111" stroke-width="1.25"/>
<text font-size="7.6" font-weight="bold" text-anchor="middle" fill="#111" stroke="#111" stroke-width="0.25" transform="translate(395.05 293.90) scale(1,1.08)">-8</text>
<line x1="415.50" y1="282.10" x2="415.50" y2="284.70" stroke="#111" stroke-width="1.25"/>
<text font-size="7.6" font-weight="bold" text-anchor="middle" fill="#111" stroke="#111" stroke-width="0.25" transform="translate(415.50 293.90) scale(1,1.08)">-7</text>
<line x1="435.95" y1="282.10" x2="435.95" y2="284.70" stroke="#111" stroke-width="1.25"/>
<text font-size="7.6" font-weight="bold" text-anchor="middle" fill="#111" stroke="#111" stroke-width="0.25" transform="translate(435.95 293.90) scale(1,1.08)">-6</text>
<line x1="456.40" y1="282.10" x2="456.40" y2="284.70" stroke="#111" stroke-width="1.25"/>
<text font-size="7.6" font-weight="bold" text-anchor="middle" fill="#111" stroke="#111" stroke-width="0.25" transform="translate(456.40 293.90) scale(1,1.08)">-5</text>
<line x1="476.85" y1="282.10" x2="476.85" y2="284.70" stroke="#111" stroke-width="1.25"/>
<text font-size="7.6" font-weight="bold" text-anchor="middle" fill="#111" stroke="#111" stroke-width="0.25" transform="translate(476.85 293.90) scale(1,1.08)">-4</text>
<text font-size="9.3" font-weight="bold" text-anchor="middle" fill="#111" stroke="#111" stroke-width="0.25" transform="translate(352.50 241.60) rotate(-90) scale(1.0,1)">ECAR (% of ctrl)</text>
<text font-size="9.5" font-weight="bold" text-anchor="middle" fill="#111" stroke="#111" stroke-width="0.25" transform="translate(424.20 305.60) scale(1,1.08)">Log BAY-8002 (mol/L)</text>
<path d="M395.05,213.74 L396.24,213.62 L397.44,213.49 L398.63,213.35 L399.82,213.20 L401.01,213.04 L402.21,212.87 L403.40,212.69 L404.59,212.50 L405.79,212.30 L406.98,212.10 L408.17,211.90 L409.37,211.69 L410.56,211.48 L411.75,211.28 L412.94,211.08 L414.14,210.88 L415.33,210.69 L416.52,210.51 L417.72,210.34 L418.91,210.18 L420.10,210.03 L421.29,209.89 L422.49,209.76 L423.68,209.64 L424.87,209.53 L426.07,209.43 L427.26,209.34 L428.45,209.26 L429.64,209.18 L430.84,209.12 L432.03,209.06 L433.22,209.01 L434.42,208.96 L435.61,208.92 L436.80,208.88 L438.00,208.85 L439.19,208.82 L440.38,208.80 L441.57,208.77 L442.77,208.75 L443.96,208.74 L445.15,208.72 L446.35,208.71 L447.54,208.70 L448.73,208.69 L449.92,208.68 L451.12,208.67 L452.31,208.66 L453.50,208.66 L454.70,208.65 L455.89,208.65 L457.08,208.64 L458.27,208.64 L459.47,208.64 L460.66,208.63 L461.85,208.63 L463.05,208.63 L464.24,208.63 L465.43,208.63 L466.62,208.62" fill="none" stroke="#7d7d7d" stroke-width="1.2" stroke-linejoin="round"/>
<path d="M395.05,210.96 L396.24,211.36 L397.44,211.79 L398.63,212.25 L399.82,212.75 L401.01,213.28 L402.21,213.86 L403.40,214.47 L404.59,215.13 L405.79,215.83 L406.98,216.57 L408.17,217.36 L409.37,218.18 L410.56,219.05 L411.75,219.95 L412.94,220.89 L414.14,221.87 L415.33,222.87 L416.52,223.91 L417.72,224.96 L418.91,226.03 L420.10,227.12 L421.29,228.21 L422.49,229.31 L423.68,230.39 L424.87,231.48 L426.07,232.54 L427.26,233.59 L428.45,234.61 L429.64,235.60 L430.84,236.56 L432.03,237.49 L433.22,238.38 L434.42,239.23 L435.61,240.03 L436.80,240.80 L438.00,241.52 L439.19,242.20 L440.38,242.84 L441.57,243.44 L442.77,244.00 L443.96,244.52 L445.15,245.00 L446.35,245.45 L447.54,245.86 L448.73,246.24 L449.92,246.59 L451.12,246.92 L452.31,247.21 L453.50,247.49 L454.70,247.73 L455.89,247.96 L457.08,248.17 L458.27,248.36 L459.47,248.53 L460.66,248.69 L461.85,248.84 L463.05,248.97 L464.24,249.09 L465.43,249.19 L466.62,249.29" fill="none" stroke="#111" stroke-width="1.2" stroke-linejoin="round"/>
<line x1="394.80" y1="213.40" x2="394.80" y2="217.20" stroke="#7d7d7d" stroke-width="1.2"/>
<line x1="392.80" y1="213.40" x2="396.80" y2="213.40" stroke="#7d7d7d" stroke-width="1.2"/>
<line x1="392.80" y1="217.20" x2="396.80" y2="217.20" stroke="#7d7d7d" stroke-width="1.2"/>
<line x1="415.60" y1="206.40" x2="415.60" y2="213.00" stroke="#7d7d7d" stroke-width="1.2"/>
<line x1="413.60" y1="206.40" x2="417.60" y2="206.40" stroke="#7d7d7d" stroke-width="1.2"/>
<line x1="413.60" y1="213.00" x2="417.60" y2="213.00" stroke="#7d7d7d" stroke-width="1.2"/>
<line x1="435.70" y1="207.30" x2="435.70" y2="214.90" stroke="#7d7d7d" stroke-width="1.2"/>
<line x1="433.70" y1="207.30" x2="437.70" y2="207.30" stroke="#7d7d7d" stroke-width="1.2"/>
<line x1="433.70" y1="214.90" x2="437.70" y2="214.90" stroke="#7d7d7d" stroke-width="1.2"/>
<line x1="465.90" y1="203.20" x2="465.90" y2="212.00" stroke="#7d7d7d" stroke-width="1.2"/>
<line x1="463.90" y1="203.20" x2="467.90" y2="203.20" stroke="#7d7d7d" stroke-width="1.2"/>
<line x1="463.90" y1="212.00" x2="467.90" y2="212.00" stroke="#7d7d7d" stroke-width="1.2"/>
<rect x="392.71" y="213.21" width="4.18" height="4.18" fill="#7d7d7d"/>
<rect x="413.51" y="207.51" width="4.18" height="4.18" fill="#7d7d7d"/>
<rect x="433.61" y="208.61" width="4.18" height="4.18" fill="#7d7d7d"/>
<rect x="454.21" y="208.11" width="4.18" height="4.18" fill="#7d7d7d"/>
<rect x="463.81" y="204.91" width="4.18" height="4.18" fill="#7d7d7d"/>
<line x1="415.60" y1="216.40" x2="415.60" y2="231.90" stroke="#111" stroke-width="1.2"/>
<line x1="413.60" y1="216.40" x2="417.60" y2="216.40" stroke="#111" stroke-width="1.2"/>
<line x1="413.60" y1="231.90" x2="417.60" y2="231.90" stroke="#111" stroke-width="1.2"/>
<line x1="435.70" y1="235.30" x2="435.70" y2="243.60" stroke="#111" stroke-width="1.2"/>
<line x1="433.70" y1="235.30" x2="437.70" y2="235.30" stroke="#111" stroke-width="1.2"/>
<line x1="433.70" y1="243.60" x2="437.70" y2="243.60" stroke="#111" stroke-width="1.2"/>
<circle cx="394.80" cy="210.20" r="2.3" fill="#111"/>
<circle cx="415.60" cy="224.40" r="2.3" fill="#111"/>
<circle cx="435.70" cy="239.50" r="2.3" fill="#111"/>
<circle cx="456.30" cy="245.50" r="2.3" fill="#111"/>
<circle cx="465.90" cy="248.90" r="2.3" fill="#111"/>
<text font-size="12.0" font-weight="bold" fill="#111" stroke="#111" stroke-width="0.25" transform="translate(0.50 330.60) scale(1,1.08)">G</text>
<line x1="39.40" y1="340.90" x2="49.60" y2="340.90" stroke="#111" stroke-width="1.1"/>
<circle cx="44.50" cy="340.90" r="2.3" fill="#111"/>
<text font-size="9.2" fill="#111" stroke="#111" stroke-width="0.3" transform="translate(56.70 343.80) scale(1,1.08)">Raji</text>
<line x1="39.40" y1="350.60" x2="49.60" y2="350.60" stroke="#111" stroke-width="1.1"/>
<rect x="42.31" y="348.42" width="4.37" height="4.37" fill="#111"/>
<text font-size="9.2" fill="#111" stroke="#111" stroke-width="0.3" transform="translate(56.70 353.70) scale(1,1.08)">Daudi</text>
<line x1="39.40" y1="360.80" x2="49.60" y2="360.80" stroke="#7d7d7d" stroke-width="1.1"/>
<polygon points="44.50,358.27 47.03,362.82 41.97,362.82" fill="#7d7d7d"/>
<text font-size="9.2" fill="#111" stroke="#111" stroke-width="0.3" transform="translate(56.70 363.90) scale(1,1.08)">EVSA-T</text>
<text transform="translate(83.10 331.30) scale(1,1.08)" font-size="9.7" font-weight="bold" fill="#111" stroke="#111" stroke-width="0.25">IC<tspan font-size="7.18" dy="1.5">50</tspan><tspan dy="-1.5"> (µmol/L)</tspan></text>
<text transform="translate(86.70 342.40) scale(1,1.08)" font-size="9.7" fill="#111" stroke="#111" stroke-width="0.3">0.67 <tspan fill="#777" stroke="#777">±</tspan> 0.16</text>
<text transform="translate(86.70 353.60) scale(1,1.08)" font-size="9.7" fill="#111" stroke="#111" stroke-width="0.3">2.27 <tspan fill="#777" stroke="#777">±</tspan> 0.35</text>
<text font-size="9.9" fill="#111" stroke="#111" stroke-width="0.3" transform="translate(95.40 364.70) scale(1,1.08)">&gt;30.00</text>
<path d="M34.30,367.61 L34.30,450.20 L139.50,450.20" fill="none" stroke="#111" stroke-width="1.25"/>
<line x1="31.70" y1="450.20" x2="34.30" y2="450.20" stroke="#111" stroke-width="1.25"/>
<text font-size="7.6" font-weight="bold" text-anchor="end" fill="#111" stroke="#111" stroke-width="0.25" transform="translate(29.90 452.90) scale(1,1.08)">0</text>
<line x1="31.70" y1="437.62" x2="34.30" y2="437.62" stroke="#111" stroke-width="1.25"/>
<text font-size="7.6" font-weight="bold" text-anchor="end" fill="#111" stroke="#111" stroke-width="0.25" transform="translate(29.90 440.32) scale(1,1.08)">20</text>
<line x1="31.70" y1="425.04" x2="34.30" y2="425.04" stroke="#111" stroke-width="1.25"/>
<text font-size="7.6" font-weight="bold" text-anchor="end" fill="#111" stroke="#111" stroke-width="0.25" transform="translate(29.90 427.74) scale(1,1.08)">40</text>
<line x1="31.70" y1="412.46" x2="34.30" y2="412.46" stroke="#111" stroke-width="1.25"/>
<text font-size="7.6" font-weight="bold" text-anchor="end" fill="#111" stroke="#111" stroke-width="0.25" transform="translate(29.90 415.16) scale(1,1.08)">60</text>
<line x1="31.70" y1="399.88" x2="34.30" y2="399.88" stroke="#111" stroke-width="1.25"/>
<text font-size="7.6" font-weight="bold" text-anchor="end" fill="#111" stroke="#111" stroke-width="0.25" transform="translate(29.90 402.58) scale(1,1.08)">80</text>
<line x1="31.70" y1="387.30" x2="34.30" y2="387.30" stroke="#111" stroke-width="1.25"/>
<text font-size="7.6" font-weight="bold" text-anchor="end" fill="#111" stroke="#111" stroke-width="0.25" transform="translate(29.90 390.00) scale(1,1.08)">100</text>
<line x1="31.70" y1="374.72" x2="34.30" y2="374.72" stroke="#111" stroke-width="1.25"/>
<text font-size="7.6" font-weight="bold" text-anchor="end" fill="#111" stroke="#111" stroke-width="0.25" transform="translate(29.90 377.42) scale(1,1.08)">120</text>
<line x1="42.40" y1="450.20" x2="42.40" y2="452.80" stroke="#111" stroke-width="1.25"/>
<text font-size="7.6" font-weight="bold" text-anchor="middle" fill="#111" stroke="#111" stroke-width="0.25" transform="translate(42.40 461.20) scale(1,1.08)">-10</text>
<line x1="58.58" y1="450.20" x2="58.58" y2="452.80" stroke="#111" stroke-width="1.25"/>
<text font-size="7.6" font-weight="bold" text-anchor="middle" fill="#111" stroke="#111" stroke-width="0.25" transform="translate(58.58 461.20) scale(1,1.08)">-9</text>
<line x1="74.76" y1="450.20" x2="74.76" y2="452.80" stroke="#111" stroke-width="1.25"/>
<text font-size="7.6" font-weight="bold" text-anchor="middle" fill="#111" stroke="#111" stroke-width="0.25" transform="translate(74.76 461.20) scale(1,1.08)">-8</text>
<line x1="90.94" y1="450.20" x2="90.94" y2="452.80" stroke="#111" stroke-width="1.25"/>
<text font-size="7.6" font-weight="bold" text-anchor="middle" fill="#111" stroke="#111" stroke-width="0.25" transform="translate(90.94 461.20) scale(1,1.08)">-7</text>
<line x1="107.12" y1="450.20" x2="107.12" y2="452.80" stroke="#111" stroke-width="1.25"/>
<text font-size="7.6" font-weight="bold" text-anchor="middle" fill="#111" stroke="#111" stroke-width="0.25" transform="translate(107.12 461.20) scale(1,1.08)">-6</text>
<line x1="123.30" y1="450.20" x2="123.30" y2="452.80" stroke="#111" stroke-width="1.25"/>
<text font-size="7.6" font-weight="bold" text-anchor="middle" fill="#111" stroke="#111" stroke-width="0.25" transform="translate(123.30 461.20) scale(1,1.08)">-5</text>
<line x1="139.48" y1="450.20" x2="139.48" y2="452.80" stroke="#111" stroke-width="1.25"/>
<text font-size="7.6" font-weight="bold" text-anchor="middle" fill="#111" stroke="#111" stroke-width="0.25" transform="translate(139.48 461.20) scale(1,1.08)">-4</text>
<text font-size="9.6" font-weight="bold" text-anchor="middle" fill="#111" stroke="#111" stroke-width="0.25" transform="translate(11.60 408.00) rotate(-90) scale(1.0,1)">Survival (% of ctrl)</text>
<text font-size="9.75" font-weight="bold" text-anchor="middle" fill="#111" stroke="#111" stroke-width="0.25" transform="translate(85.50 473.20) scale(1,1.08)">Log MCT1-BAY002 (mol/L)</text>
<path d="M42.40,376.29 L43.88,376.29 L45.37,376.29 L46.85,376.29 L48.33,376.29 L49.82,376.29 L51.30,376.29 L52.78,376.29 L54.27,376.29 L55.75,376.29 L57.23,376.29 L58.71,376.29 L60.20,376.29 L61.68,376.29 L63.16,376.29 L64.65,376.29 L66.13,376.29 L67.61,376.29 L69.10,376.29 L70.58,376.30 L72.06,376.30 L73.55,376.30 L75.03,376.30 L76.51,376.30 L78.00,376.30 L79.48,376.30 L80.96,376.30 L82.45,376.31 L83.93,376.31 L85.41,376.31 L86.89,376.32 L88.38,376.32 L89.86,376.33 L91.34,376.34 L92.83,376.35 L94.31,376.37 L95.79,376.39 L97.28,376.41 L98.76,376.43 L100.24,376.47 L101.73,376.51 L103.21,376.56 L104.69,376.62 L106.18,376.70 L107.66,376.79 L109.14,376.91 L110.63,377.05 L112.11,377.23 L113.59,377.45 L115.08,377.71 L116.56,378.04 L118.04,378.43 L119.52,378.92 L121.01,379.51 L122.49,380.23 L123.97,381.09 L125.46,382.13 L126.94,383.37 L128.42,384.84 L129.91,386.57 L131.39,388.59" fill="none" stroke="#7d7d7d" stroke-width="1.2" stroke-linejoin="round"/>
<path d="M42.40,384.79 L43.75,384.79 L45.10,384.79 L46.45,384.79 L47.79,384.79 L49.14,384.79 L50.49,384.79 L51.84,384.79 L53.19,384.79 L54.53,384.79 L55.88,384.79 L57.23,384.80 L58.58,384.80 L59.93,384.80 L61.28,384.81 L62.62,384.81 L63.97,384.82 L65.32,384.82 L66.67,384.83 L68.02,384.85 L69.37,384.86 L70.72,384.88 L72.06,384.90 L73.41,384.92 L74.76,384.95 L76.11,384.99 L77.46,385.04 L78.81,385.09 L80.15,385.16 L81.50,385.25 L82.85,385.35 L84.20,385.48 L85.55,385.64 L86.89,385.82 L88.24,386.05 L89.59,386.33 L90.94,386.67 L92.29,387.09 L93.64,387.58 L94.98,388.18 L96.33,388.90 L97.68,389.76 L99.03,390.78 L100.38,391.98 L101.73,393.39 L103.07,395.02 L104.42,396.91 L105.77,399.05 L107.12,401.44 L108.47,404.09 L109.82,406.97 L111.16,410.04 L112.51,413.26 L113.86,416.56 L115.21,419.88 L116.56,423.16 L117.91,426.32 L119.25,429.31 L120.60,432.09 L121.95,434.63 L123.30,436.91" fill="none" stroke="#111" stroke-width="1.2" stroke-linejoin="round"/>
<path d="M42.40,376.61 L43.75,376.61 L45.10,376.61 L46.45,376.61 L47.79,376.61 L49.14,376.61 L50.49,376.61 L51.84,376.61 L53.19,376.61 L54.53,376.61 L55.88,376.61 L57.23,376.61 L58.58,376.61 L59.93,376.61 L61.28,376.61 L62.62,376.62 L63.97,376.62 L65.32,376.62 L66.67,376.63 L68.02,376.63 L69.37,376.64 L70.72,376.66 L72.06,376.67 L73.41,376.69 L74.76,376.72 L76.11,376.76 L77.46,376.81 L78.81,376.87 L80.15,376.96 L81.50,377.07 L82.85,377.22 L84.20,377.42 L85.55,377.69 L86.89,378.03 L88.24,378.48 L89.59,379.07 L90.94,379.84 L92.29,380.83 L93.64,382.11 L94.98,383.73 L96.33,385.76 L97.68,388.27 L99.03,391.31 L100.38,394.91 L101.73,399.05 L103.07,403.68 L104.42,408.66 L105.77,413.82 L107.12,418.97 L108.47,423.90 L109.82,428.45 L111.16,432.51 L112.51,436.02 L113.86,438.98 L115.21,441.40 L116.56,443.37 L117.91,444.92 L119.25,446.15 L120.60,447.10 L121.95,447.84 L123.30,448.41" fill="none" stroke="#111" stroke-width="1.2" stroke-linejoin="round"/>
<line x1="123.50" y1="377.30" x2="123.50" y2="385.40" stroke="#7d7d7d" stroke-width="1.2"/>
<line x1="121.50" y1="377.30" x2="125.50" y2="377.30" stroke="#7d7d7d" stroke-width="1.2"/>
<line x1="121.50" y1="385.40" x2="125.50" y2="385.40" stroke="#7d7d7d" stroke-width="1.2"/>
<polygon points="42.60,373.87 45.13,378.42 40.07,378.42" fill="#7d7d7d"/>
<polygon points="58.60,373.87 61.13,378.42 56.07,378.42" fill="#7d7d7d"/>
<polygon points="74.70,373.87 77.23,378.42 72.17,378.42" fill="#7d7d7d"/>
<polygon points="90.80,373.87 93.33,378.42 88.27,378.42" fill="#7d7d7d"/>
<polygon points="107.40,376.67 109.93,381.22 104.87,381.22" fill="#7d7d7d"/>
<polygon points="123.50,379.17 126.03,383.72 120.97,383.72" fill="#7d7d7d"/>
<polygon points="131.50,387.07 134.03,391.62 128.97,391.62" fill="#7d7d7d"/>
<rect x="40.41" y="384.21" width="4.37" height="4.37" fill="#111"/>
<line x1="42.60" y1="378.30" x2="42.60" y2="388.70" stroke="#111" stroke-width="1.2"/>
<line x1="40.60" y1="378.30" x2="44.60" y2="378.30" stroke="#111" stroke-width="1.2"/>
<line x1="40.60" y1="388.70" x2="44.60" y2="388.70" stroke="#111" stroke-width="1.2"/>
<line x1="58.60" y1="376.40" x2="58.60" y2="394.30" stroke="#111" stroke-width="1.2"/>
<line x1="56.60" y1="376.40" x2="60.60" y2="376.40" stroke="#111" stroke-width="1.2"/>
<line x1="56.60" y1="394.30" x2="60.60" y2="394.30" stroke="#111" stroke-width="1.2"/>
<line x1="74.70" y1="374.50" x2="74.70" y2="400.00" stroke="#111" stroke-width="1.2"/>
<line x1="72.70" y1="374.50" x2="76.70" y2="374.50" stroke="#111" stroke-width="1.2"/>
<line x1="72.70" y1="400.00" x2="76.70" y2="400.00" stroke="#111" stroke-width="1.2"/>
<line x1="90.80" y1="375.40" x2="90.80" y2="398.10" stroke="#111" stroke-width="1.2"/>
<line x1="88.80" y1="375.40" x2="92.80" y2="375.40" stroke="#111" stroke-width="1.2"/>
<line x1="88.80" y1="398.10" x2="92.80" y2="398.10" stroke="#111" stroke-width="1.2"/>
<line x1="107.40" y1="395.30" x2="107.40" y2="405.70" stroke="#111" stroke-width="1.2"/>
<line x1="105.40" y1="395.30" x2="109.40" y2="395.30" stroke="#111" stroke-width="1.2"/>
<line x1="105.40" y1="405.70" x2="109.40" y2="405.70" stroke="#111" stroke-width="1.2"/>
<rect x="40.41" y="381.42" width="4.37" height="4.37" fill="#111"/>
<rect x="56.41" y="382.31" width="4.37" height="4.37" fill="#111"/>
<rect x="72.52" y="384.62" width="4.37" height="4.37" fill="#111"/>
<rect x="88.61" y="383.62" width="4.37" height="4.37" fill="#111"/>
<rect x="105.22" y="398.42" width="4.37" height="4.37" fill="#111"/>
<rect x="121.31" y="434.31" width="4.37" height="4.37" fill="#111"/>
<line x1="42.60" y1="373.00" x2="42.60" y2="385.00" stroke="#111" stroke-width="1.2"/>
<line x1="40.60" y1="373.00" x2="44.60" y2="373.00" stroke="#111" stroke-width="1.2"/>
<line x1="40.60" y1="385.00" x2="44.60" y2="385.00" stroke="#111" stroke-width="1.2"/>
<line x1="58.60" y1="368.40" x2="58.60" y2="383.90" stroke="#111" stroke-width="1.2"/>
<line x1="56.60" y1="368.40" x2="60.60" y2="368.40" stroke="#111" stroke-width="1.2"/>
<line x1="56.60" y1="383.90" x2="60.60" y2="383.90" stroke="#111" stroke-width="1.2"/>
<line x1="74.70" y1="368.40" x2="74.70" y2="381.10" stroke="#111" stroke-width="1.2"/>
<line x1="72.70" y1="368.40" x2="76.70" y2="368.40" stroke="#111" stroke-width="1.2"/>
<line x1="72.70" y1="381.10" x2="76.70" y2="381.10" stroke="#111" stroke-width="1.2"/>
<line x1="90.80" y1="368.80" x2="90.80" y2="385.80" stroke="#111" stroke-width="1.2"/>
<line x1="88.80" y1="368.80" x2="92.80" y2="368.80" stroke="#111" stroke-width="1.2"/>
<line x1="88.80" y1="385.80" x2="92.80" y2="385.80" stroke="#111" stroke-width="1.2"/>
<line x1="107.40" y1="412.30" x2="107.40" y2="430.90" stroke="#111" stroke-width="1.2"/>
<line x1="105.40" y1="412.30" x2="109.40" y2="412.30" stroke="#111" stroke-width="1.2"/>
<line x1="105.40" y1="430.90" x2="109.40" y2="430.90" stroke="#111" stroke-width="1.2"/>
<circle cx="42.60" cy="378.30" r="2.3" fill="#111"/>
<circle cx="58.60" cy="376.40" r="2.3" fill="#111"/>
<circle cx="74.70" cy="374.80" r="2.3" fill="#111"/>
<circle cx="90.80" cy="377.30" r="2.3" fill="#111"/>
<circle cx="107.40" cy="421.40" r="2.3" fill="#111"/>
<circle cx="123.50" cy="449.80" r="2.3" fill="#111"/>
<text font-size="12.0" font-weight="bold" fill="#111" stroke="#111" stroke-width="0.25" transform="translate(166.40 329.90) scale(1,1.08)">H</text>
<line x1="189.20" y1="345.20" x2="198.80" y2="345.20" stroke="#111" stroke-width="1.1"/>
<circle cx="194.00" cy="345.20" r="2.3" fill="#111"/>
<text font-size="9.05" fill="#111" stroke="#111" stroke-width="0.12" transform="translate(202.90 348.30) scale(1,1.08)">Human MCT1 (DLD-1)</text>
<line x1="189.20" y1="355.40" x2="198.80" y2="355.40" stroke="#111" stroke-width="1.1" stroke-dasharray="2,1.5"/>
<rect x="191.81" y="353.21" width="4.37" height="4.37" fill="#111"/>
<text font-size="9.05" fill="#111" stroke="#111" stroke-width="0.12" transform="translate(202.90 358.50) scale(1,1.08)">Murine MCT1 (4T1)</text>
<line x1="189.20" y1="365.40" x2="198.80" y2="365.40" stroke="#111" stroke-width="1.1" stroke-dasharray="1,1.5"/>
<polygon points="194.00,362.87 196.53,367.42 191.47,367.42" fill="#111"/>
<text font-size="9.05" fill="#111" stroke="#111" stroke-width="0.12" transform="translate(202.90 368.60) scale(1,1.08)">Rat MCT1 (C6)</text>
<text transform="translate(277.00 334.60) scale(1,1.08)" font-size="9.7" font-weight="bold" fill="#111" stroke="#111" stroke-width="0.25">IC<tspan font-size="7.18" dy="1.5">50</tspan><tspan dy="-1.5"> (nmol/L)</tspan></text>
<text transform="translate(297.10 348.80) scale(1,1.08)" font-size="9.3" fill="#111" stroke="#111" stroke-width="0.3">8 <tspan fill="#777" stroke="#777">±</tspan> 2</text>
<text transform="translate(293.30 359.30) scale(1,1.08)" font-size="9.3" fill="#111" stroke="#111" stroke-width="0.3">12 <tspan fill="#777" stroke="#777">±</tspan> 4</text>
<text transform="translate(295.20 370.90) scale(1,1.08)" font-size="9.3" fill="#111" stroke="#111" stroke-width="0.3">3 <tspan fill="#777" stroke="#777">±</tspan> 1</text>
<path d="M197.30,372.10 L197.30,450.70 L297.80,450.70" fill="none" stroke="#111" stroke-width="1.25"/>
<line x1="194.70" y1="450.70" x2="197.30" y2="450.70" stroke="#111" stroke-width="1.25"/>
<text font-size="7.6" font-weight="bold" text-anchor="end" fill="#111" stroke="#111" stroke-width="0.25" transform="translate(192.90 453.40) scale(1,1.08)">0</text>
<line x1="194.70" y1="437.60" x2="197.30" y2="437.60" stroke="#111" stroke-width="1.25"/>
<text font-size="7.6" font-weight="bold" text-anchor="end" fill="#111" stroke="#111" stroke-width="0.25" transform="translate(192.90 440.30) scale(1,1.08)">20</text>
<line x1="194.70" y1="424.50" x2="197.30" y2="424.50" stroke="#111" stroke-width="1.25"/>
<text font-size="7.6" font-weight="bold" text-anchor="end" fill="#111" stroke="#111" stroke-width="0.25" transform="translate(192.90 427.20) scale(1,1.08)">40</text>
<line x1="194.70" y1="411.40" x2="197.30" y2="411.40" stroke="#111" stroke-width="1.25"/>
<text font-size="7.6" font-weight="bold" text-anchor="end" fill="#111" stroke="#111" stroke-width="0.25" transform="translate(192.90 414.10) scale(1,1.08)">60</text>
<line x1="194.70" y1="398.30" x2="197.30" y2="398.30" stroke="#111" stroke-width="1.25"/>
<text font-size="7.6" font-weight="bold" text-anchor="end" fill="#111" stroke="#111" stroke-width="0.25" transform="translate(192.90 401.00) scale(1,1.08)">80</text>
<line x1="194.70" y1="385.20" x2="197.30" y2="385.20" stroke="#111" stroke-width="1.25"/>
<text font-size="7.6" font-weight="bold" text-anchor="end" fill="#111" stroke="#111" stroke-width="0.25" transform="translate(192.90 387.90) scale(1,1.08)">100</text>
<line x1="194.70" y1="372.10" x2="197.30" y2="372.10" stroke="#111" stroke-width="1.25"/>
<text font-size="7.6" font-weight="bold" text-anchor="end" fill="#111" stroke="#111" stroke-width="0.25" transform="translate(192.90 374.80) scale(1,1.08)">120</text>
<line x1="205.50" y1="450.70" x2="205.50" y2="453.30" stroke="#111" stroke-width="1.25"/>
<text font-size="7.6" font-weight="bold" text-anchor="middle" fill="#111" stroke="#111" stroke-width="0.25" transform="translate(205.50 460.90) scale(1,1.08)">-10</text>
<line x1="220.90" y1="450.70" x2="220.90" y2="453.30" stroke="#111" stroke-width="1.25"/>
<text font-size="7.6" font-weight="bold" text-anchor="middle" fill="#111" stroke="#111" stroke-width="0.25" transform="translate(220.90 460.90) scale(1,1.08)">-9</text>
<line x1="236.30" y1="450.70" x2="236.30" y2="453.30" stroke="#111" stroke-width="1.25"/>
<text font-size="7.6" font-weight="bold" text-anchor="middle" fill="#111" stroke="#111" stroke-width="0.25" transform="translate(236.30 460.90) scale(1,1.08)">-8</text>
<line x1="251.70" y1="450.70" x2="251.70" y2="453.30" stroke="#111" stroke-width="1.25"/>
<text font-size="7.6" font-weight="bold" text-anchor="middle" fill="#111" stroke="#111" stroke-width="0.25" transform="translate(251.70 460.90) scale(1,1.08)">-7</text>
<line x1="267.10" y1="450.70" x2="267.10" y2="453.30" stroke="#111" stroke-width="1.25"/>
<text font-size="7.6" font-weight="bold" text-anchor="middle" fill="#111" stroke="#111" stroke-width="0.25" transform="translate(267.10 460.90) scale(1,1.08)">-6</text>
<line x1="282.50" y1="450.70" x2="282.50" y2="453.30" stroke="#111" stroke-width="1.25"/>
<text font-size="7.6" font-weight="bold" text-anchor="middle" fill="#111" stroke="#111" stroke-width="0.25" transform="translate(282.50 460.90) scale(1,1.08)">-5</text>
<line x1="297.90" y1="450.70" x2="297.90" y2="453.30" stroke="#111" stroke-width="1.25"/>
<text font-size="7.6" font-weight="bold" text-anchor="middle" fill="#111" stroke="#111" stroke-width="0.25" transform="translate(297.90 460.90) scale(1,1.08)">-4</text>
<text font-size="9.3" font-weight="bold" text-anchor="middle" fill="#111" stroke="#111" stroke-width="0.25" transform="translate(175.00 411.00) rotate(-90) scale(1.0,1)"><tspan font-size="6.2" dy="-3.2">14</tspan><tspan dy="3.2">C-Lactate uptake (% of ctrl)</tspan></text>
<text font-size="9.5" font-weight="bold" text-anchor="middle" fill="#111" stroke="#111" stroke-width="0.25" transform="translate(245.80 473.40) scale(1,1.08)">Log BAY-8002 (mol/L)</text>
<path d="M205.50,396.20 C206.75,397.08 210.40,399.37 213.00,401.50 C215.60,403.63 218.47,405.75 221.10,409.00 C223.73,412.25 226.23,416.92 228.80,421.00 C231.37,425.08 234.13,430.00 236.50,433.50 C238.87,437.00 240.75,439.75 243.00,442.00 C245.25,444.25 247.83,445.80 250.00,447.00 C252.17,448.20 253.50,448.67 256.00,449.20 C258.50,449.73 259.75,449.98 265.00,450.20 C270.25,450.42 283.75,450.45 287.50,450.50" fill="none" stroke="#111" stroke-width="1.0" stroke-dasharray="1,1.4" stroke-linejoin="round"/>
<path d="M205.50,393.50 C206.75,394.25 210.40,395.98 213.00,398.00 C215.60,400.02 218.47,403.02 221.10,405.60 C223.73,408.18 226.23,410.73 228.80,413.50 C231.37,416.27 233.97,419.03 236.50,422.20 C239.03,425.37 241.45,429.33 244.00,432.50 C246.55,435.67 249.22,438.87 251.80,441.20 C254.38,443.53 256.93,445.23 259.50,446.50 C262.07,447.77 264.62,448.30 267.20,448.80 C269.78,449.30 271.62,449.33 275.00,449.50 C278.38,449.67 285.42,449.75 287.50,449.80" fill="none" stroke="#111" stroke-width="1.1" stroke-dasharray="2.5,1.5" stroke-linejoin="round"/>
<path d="M205.50,387.50 C206.75,387.75 210.40,388.07 213.00,389.00 C215.60,389.93 218.47,390.60 221.10,393.10 C223.73,395.60 226.23,399.52 228.80,404.00 C231.37,408.48 233.97,415.50 236.50,420.00 C239.03,424.50 241.45,427.95 244.00,431.00 C246.55,434.05 249.22,436.30 251.80,438.30 C254.38,440.30 256.93,441.75 259.50,443.00 C262.07,444.25 264.62,445.10 267.20,445.80 C269.78,446.50 272.27,446.85 275.00,447.20 C277.73,447.55 281.52,447.77 283.60,447.90 C285.68,448.03 286.85,447.98 287.50,448.00" fill="none" stroke="#111" stroke-width="1.2" stroke-linejoin="round"/>
<polygon points="205.50,393.78 207.92,398.14 203.08,398.14" fill="#111"/>
<polygon points="221.00,407.08 223.42,411.44 218.58,411.44" fill="#111"/>
<polygon points="236.10,433.58 238.52,437.94 233.68,437.94" fill="#111"/>
<polygon points="251.30,444.58 253.72,448.94 248.88,448.94" fill="#111"/>
<polygon points="267.30,447.08 269.72,451.44 264.88,451.44" fill="#111"/>
<polygon points="282.30,447.58 284.72,451.94 279.88,451.94" fill="#111"/>
<polygon points="287.40,446.58 289.82,450.94 284.98,450.94" fill="#111"/>
<line x1="221.00" y1="397.00" x2="221.00" y2="416.00" stroke="#111" stroke-width="1.2"/>
<line x1="219.00" y1="397.00" x2="223.00" y2="397.00" stroke="#111" stroke-width="1.2"/>
<line x1="219.00" y1="416.00" x2="223.00" y2="416.00" stroke="#111" stroke-width="1.2"/>
<rect x="203.41" y="390.91" width="4.18" height="4.18" fill="#111"/>
<rect x="218.91" y="403.61" width="4.18" height="4.18" fill="#111"/>
<rect x="234.01" y="419.71" width="4.18" height="4.18" fill="#111"/>
<rect x="249.21" y="440.51" width="4.18" height="4.18" fill="#111"/>
<rect x="265.21" y="442.91" width="4.18" height="4.18" fill="#111"/>
<rect x="280.21" y="446.91" width="4.18" height="4.18" fill="#111"/>
<rect x="285.31" y="444.21" width="4.18" height="4.18" fill="#111"/>
<line x1="205.50" y1="377.90" x2="205.50" y2="406.60" stroke="#111" stroke-width="1.2"/>
<line x1="203.50" y1="377.90" x2="207.50" y2="377.90" stroke="#111" stroke-width="1.2"/>
<line x1="203.50" y1="406.60" x2="207.50" y2="406.60" stroke="#111" stroke-width="1.2"/>
<line x1="221.00" y1="381.10" x2="221.00" y2="416.10" stroke="#111" stroke-width="1.2"/>
<line x1="219.00" y1="381.10" x2="223.00" y2="381.10" stroke="#111" stroke-width="1.2"/>
<line x1="219.00" y1="416.10" x2="223.00" y2="416.10" stroke="#111" stroke-width="1.2"/>
<line x1="236.10" y1="413.30" x2="236.10" y2="428.40" stroke="#111" stroke-width="1.2"/>
<line x1="234.10" y1="413.30" x2="238.10" y2="413.30" stroke="#111" stroke-width="1.2"/>
<line x1="234.10" y1="428.40" x2="238.10" y2="428.40" stroke="#111" stroke-width="1.2"/>
<line x1="251.30" y1="433.10" x2="251.30" y2="446.40" stroke="#111" stroke-width="1.2"/>
<line x1="249.30" y1="433.10" x2="253.30" y2="433.10" stroke="#111" stroke-width="1.2"/>
<line x1="249.30" y1="446.40" x2="253.30" y2="446.40" stroke="#111" stroke-width="1.2"/>
<line x1="267.30" y1="440.00" x2="267.30" y2="448.20" stroke="#111" stroke-width="1.2"/>
<line x1="265.30" y1="440.00" x2="269.30" y2="440.00" stroke="#111" stroke-width="1.2"/>
<line x1="265.30" y1="448.20" x2="269.30" y2="448.20" stroke="#111" stroke-width="1.2"/>
<circle cx="205.50" cy="388.70" r="2.3" fill="#111"/>
<circle cx="221.00" cy="393.40" r="2.3" fill="#111"/>
<circle cx="236.10" cy="420.80" r="2.3" fill="#111"/>
<circle cx="251.30" cy="439.80" r="2.3" fill="#111"/>
<circle cx="267.30" cy="443.60" r="2.3" fill="#111"/>
<circle cx="282.30" cy="449.40" r="2.3" fill="#111"/>
<circle cx="287.40" cy="448.00" r="2.3" fill="#111"/>
<text font-size="12.0" font-weight="bold" fill="#111" stroke="#111" stroke-width="0.25" transform="translate(340.60 329.80) scale(1,1.08)">I</text>
<line x1="366.00" y1="339.20" x2="375.60" y2="339.20" stroke="#111" stroke-width="1.1"/>
<circle cx="370.80" cy="339.20" r="2.3" fill="#fff" stroke="#111" stroke-width="1.4"/>
<text font-size="9.5" fill="#111" stroke="#111" stroke-width="0.3" transform="translate(382.30 342.40) scale(1,1.08)">hMCT1 rec. <tspan font-style="italic">X. laevis</tspan></text>
<line x1="366.00" y1="351.50" x2="375.60" y2="351.50" stroke="#7d7d7d" stroke-width="1.1"/>
<polygon points="370.80,348.74 373.56,353.71 368.04,353.71" fill="#fff" stroke="#7d7d7d" stroke-width="1.3"/>
<text font-size="9.5" fill="#111" stroke="#111" stroke-width="0.3" transform="translate(382.30 354.50) scale(1,1.08)">hMCT2 rec. <tspan font-style="italic">X. laevis</tspan></text>
<line x1="366.00" y1="361.50" x2="375.60" y2="361.50" stroke="#7d7d7d" stroke-width="1.1"/>
<rect x="368.62" y="359.31" width="4.37" height="4.37" fill="#fff" stroke="#7d7d7d" stroke-width="1.3"/>
<text font-size="9.5" fill="#111" stroke="#111" stroke-width="0.3" transform="translate(382.30 364.60) scale(1,1.08)">hMCT4 rec. <tspan font-style="italic">X. laevis</tspan></text>
<text transform="translate(461.00 331.20) scale(1,1.08)" font-size="9.7" font-weight="bold" fill="#111" stroke="#111" stroke-width="0.25">IC<tspan font-size="7.18" dy="1.5">50</tspan><tspan dy="-1.5"> (nmol/L)</tspan></text>
<text transform="translate(479.20 342.80) scale(1,1.08)" font-size="9.3" fill="#111" stroke="#111" stroke-width="0.3">1 <tspan fill="#777" stroke="#777">±</tspan> 0</text>
<text transform="translate(479.20 354.30) scale(1,1.08)" font-size="9.3" fill="#111" stroke="#111" stroke-width="0.3">5 <tspan fill="#777" stroke="#777">±</tspan> 1</text>
<text font-size="9.3" fill="#111" stroke="#111" stroke-width="0.3" transform="translate(478.70 364.70) scale(1,1.08)">&gt;500</text>
<path d="M374.70,370.06 L374.70,450.70 L478.90,450.70" fill="none" stroke="#111" stroke-width="1.25"/>
<line x1="372.10" y1="450.70" x2="374.70" y2="450.70" stroke="#111" stroke-width="1.25"/>
<text font-size="7.6" font-weight="bold" text-anchor="end" fill="#111" stroke="#111" stroke-width="0.25" transform="translate(370.30 453.40) scale(1,1.08)">0</text>
<line x1="372.10" y1="440.62" x2="374.70" y2="440.62" stroke="#111" stroke-width="1.25"/>
<text font-size="7.6" font-weight="bold" text-anchor="end" fill="#111" stroke="#111" stroke-width="0.25" transform="translate(370.30 443.32) scale(1,1.08)">20</text>
<line x1="372.10" y1="430.54" x2="374.70" y2="430.54" stroke="#111" stroke-width="1.25"/>
<text font-size="7.6" font-weight="bold" text-anchor="end" fill="#111" stroke="#111" stroke-width="0.25" transform="translate(370.30 433.24) scale(1,1.08)">40</text>
<line x1="372.10" y1="420.46" x2="374.70" y2="420.46" stroke="#111" stroke-width="1.25"/>
<text font-size="7.6" font-weight="bold" text-anchor="end" fill="#111" stroke="#111" stroke-width="0.25" transform="translate(370.30 423.16) scale(1,1.08)">60</text>
<line x1="372.10" y1="410.38" x2="374.70" y2="410.38" stroke="#111" stroke-width="1.25"/>
<text font-size="7.6" font-weight="bold" text-anchor="end" fill="#111" stroke="#111" stroke-width="0.25" transform="translate(370.30 413.08) scale(1,1.08)">80</text>
<line x1="372.10" y1="400.30" x2="374.70" y2="400.30" stroke="#111" stroke-width="1.25"/>
<text font-size="7.6" font-weight="bold" text-anchor="end" fill="#111" stroke="#111" stroke-width="0.25" transform="translate(370.30 403.00) scale(1,1.08)">100</text>
<line x1="372.10" y1="390.22" x2="374.70" y2="390.22" stroke="#111" stroke-width="1.25"/>
<text font-size="7.6" font-weight="bold" text-anchor="end" fill="#111" stroke="#111" stroke-width="0.25" transform="translate(370.30 392.92) scale(1,1.08)">120</text>
<line x1="372.10" y1="380.14" x2="374.70" y2="380.14" stroke="#111" stroke-width="1.25"/>
<text font-size="7.6" font-weight="bold" text-anchor="end" fill="#111" stroke="#111" stroke-width="0.25" transform="translate(370.30 382.84) scale(1,1.08)">140</text>
<line x1="372.10" y1="370.06" x2="374.70" y2="370.06" stroke="#111" stroke-width="1.25"/>
<text font-size="7.6" font-weight="bold" text-anchor="end" fill="#111" stroke="#111" stroke-width="0.25" transform="translate(370.30 372.76) scale(1,1.08)">160</text>
<line x1="374.70" y1="450.70" x2="374.70" y2="453.30" stroke="#111" stroke-width="1.25"/>
<text font-size="7.6" font-weight="bold" text-anchor="middle" fill="#111" stroke="#111" stroke-width="0.25" transform="translate(374.70 461.10) scale(1,1.08)">-10</text>
<line x1="400.75" y1="450.70" x2="400.75" y2="453.30" stroke="#111" stroke-width="1.25"/>
<text font-size="7.6" font-weight="bold" text-anchor="middle" fill="#111" stroke="#111" stroke-width="0.25" transform="translate(400.75 461.10) scale(1,1.08)">-9</text>
<line x1="426.80" y1="450.70" x2="426.80" y2="453.30" stroke="#111" stroke-width="1.25"/>
<text font-size="7.6" font-weight="bold" text-anchor="middle" fill="#111" stroke="#111" stroke-width="0.25" transform="translate(426.80 461.10) scale(1,1.08)">-8</text>
<line x1="452.85" y1="450.70" x2="452.85" y2="453.30" stroke="#111" stroke-width="1.25"/>
<text font-size="7.6" font-weight="bold" text-anchor="middle" fill="#111" stroke="#111" stroke-width="0.25" transform="translate(452.85 461.10) scale(1,1.08)">-7</text>
<line x1="478.90" y1="450.70" x2="478.90" y2="453.30" stroke="#111" stroke-width="1.25"/>
<text font-size="7.6" font-weight="bold" text-anchor="middle" fill="#111" stroke="#111" stroke-width="0.25" transform="translate(478.90 461.10) scale(1,1.08)">-6</text>
<text font-size="9.3" font-weight="bold" text-anchor="middle" fill="#111" stroke="#111" stroke-width="0.25" transform="translate(346.20 411.00) rotate(-90) scale(1.0,1)"><tspan font-size="6.2" dy="-3.2">14</tspan><tspan dy="3.2">C-Lactate uptake (% of ctrl)</tspan></text>
<text font-size="9.5" font-weight="bold" text-anchor="middle" fill="#111" stroke="#111" stroke-width="0.25" transform="translate(425.00 472.80) scale(1,1.08)">Log BAY-8002 (mol/L)</text>
<path d="M380.10,399.20 L466.50,399.20 L468.60,397.50 L470.10,388.50" fill="none" stroke="#7d7d7d" stroke-width="1.2" stroke-linejoin="round"/>
<path d="M380.10,390.00 C381.08,391.92 383.87,397.67 386.00,401.50 C388.13,405.33 390.65,409.67 392.90,413.00 C395.15,416.33 397.28,419.08 399.50,421.50 C401.72,423.92 404.03,425.67 406.20,427.50 C408.37,429.33 410.38,431.03 412.50,432.50 C414.62,433.97 415.70,434.65 418.90,436.30 C422.10,437.95 427.42,440.70 431.70,442.40 C435.98,444.10 440.25,445.47 444.60,446.50 C448.95,447.53 453.55,448.10 457.80,448.60 C462.05,449.10 468.05,449.35 470.10,449.50" fill="none" stroke="#7d7d7d" stroke-width="1.2" stroke-linejoin="round"/>
<path d="M380.69,391.39 L382.20,391.59 L383.70,391.82 L385.21,392.09 L386.72,392.40 L388.22,392.77 L389.73,393.19 L391.24,393.67 L392.74,394.23 L394.25,394.87 L395.76,395.60 L397.26,396.44 L398.77,397.39 L400.28,398.46 L401.78,399.67 L403.29,401.02 L404.80,402.51 L406.30,404.14 L407.81,405.93 L409.32,407.86 L410.82,409.92 L412.33,412.10 L413.84,414.37 L415.34,416.73 L416.85,419.12 L418.36,421.54 L419.86,423.94 L421.37,426.30 L422.88,428.58 L424.38,430.77 L425.89,432.85 L427.39,434.79 L428.90,436.59 L430.41,438.25 L431.91,439.75 L433.42,441.11 L434.93,442.33 L436.43,443.42 L437.94,444.38 L439.45,445.23 L440.95,445.98 L442.46,446.63 L443.97,447.19 L445.47,447.69 L446.98,448.11 L448.49,448.48 L449.99,448.80 L451.50,449.07 L453.01,449.31 L454.51,449.51 L456.02,449.68 L457.53,449.83 L459.03,449.96 L460.54,450.06 L462.05,450.16 L463.55,450.24 L465.06,450.31 L466.57,450.36 L468.07,450.41 L469.58,450.45 L471.08,450.49" fill="none" stroke="#111" stroke-width="1.2" stroke-linejoin="round"/>
<line x1="380.10" y1="391.50" x2="380.10" y2="405.70" stroke="#7d7d7d" stroke-width="1.2"/>
<line x1="378.10" y1="391.50" x2="382.10" y2="391.50" stroke="#7d7d7d" stroke-width="1.2"/>
<line x1="378.10" y1="405.70" x2="382.10" y2="405.70" stroke="#7d7d7d" stroke-width="1.2"/>
<line x1="392.90" y1="393.40" x2="392.90" y2="403.80" stroke="#7d7d7d" stroke-width="1.2"/>
<line x1="390.90" y1="393.40" x2="394.90" y2="393.40" stroke="#7d7d7d" stroke-width="1.2"/>
<line x1="390.90" y1="403.80" x2="394.90" y2="403.80" stroke="#7d7d7d" stroke-width="1.2"/>
<line x1="406.20" y1="391.50" x2="406.20" y2="404.70" stroke="#7d7d7d" stroke-width="1.2"/>
<line x1="404.20" y1="391.50" x2="408.20" y2="391.50" stroke="#7d7d7d" stroke-width="1.2"/>
<line x1="404.20" y1="404.70" x2="408.20" y2="404.70" stroke="#7d7d7d" stroke-width="1.2"/>
<line x1="418.90" y1="390.60" x2="418.90" y2="404.70" stroke="#7d7d7d" stroke-width="1.2"/>
<line x1="416.90" y1="390.60" x2="420.90" y2="390.60" stroke="#7d7d7d" stroke-width="1.2"/>
<line x1="416.90" y1="404.70" x2="420.90" y2="404.70" stroke="#7d7d7d" stroke-width="1.2"/>
<line x1="431.70" y1="397.20" x2="431.70" y2="405.10" stroke="#7d7d7d" stroke-width="1.2"/>
<line x1="429.70" y1="397.20" x2="433.70" y2="397.20" stroke="#7d7d7d" stroke-width="1.2"/>
<line x1="429.70" y1="405.10" x2="433.70" y2="405.10" stroke="#7d7d7d" stroke-width="1.2"/>
<line x1="444.60" y1="387.30" x2="444.60" y2="401.30" stroke="#7d7d7d" stroke-width="1.2"/>
<line x1="442.60" y1="387.30" x2="446.60" y2="387.30" stroke="#7d7d7d" stroke-width="1.2"/>
<line x1="442.60" y1="401.30" x2="446.60" y2="401.30" stroke="#7d7d7d" stroke-width="1.2"/>
<line x1="457.80" y1="391.50" x2="457.80" y2="418.00" stroke="#7d7d7d" stroke-width="1.2"/>
<line x1="455.80" y1="391.50" x2="459.80" y2="391.50" stroke="#7d7d7d" stroke-width="1.2"/>
<line x1="455.80" y1="418.00" x2="459.80" y2="418.00" stroke="#7d7d7d" stroke-width="1.2"/>
<line x1="470.10" y1="378.60" x2="470.10" y2="395.30" stroke="#7d7d7d" stroke-width="1.2"/>
<line x1="468.10" y1="378.60" x2="472.10" y2="378.60" stroke="#7d7d7d" stroke-width="1.2"/>
<line x1="468.10" y1="395.30" x2="472.10" y2="395.30" stroke="#7d7d7d" stroke-width="1.2"/>
<rect x="378.01" y="396.01" width="4.18" height="4.18" fill="#fff" stroke="#7d7d7d" stroke-width="1.3"/>
<rect x="390.81" y="396.61" width="4.18" height="4.18" fill="#fff" stroke="#7d7d7d" stroke-width="1.3"/>
<rect x="404.11" y="396.61" width="4.18" height="4.18" fill="#fff" stroke="#7d7d7d" stroke-width="1.3"/>
<rect x="416.81" y="395.51" width="4.18" height="4.18" fill="#fff" stroke="#7d7d7d" stroke-width="1.3"/>
<rect x="429.61" y="398.81" width="4.18" height="4.18" fill="#fff" stroke="#7d7d7d" stroke-width="1.3"/>
<rect x="442.51" y="392.21" width="4.18" height="4.18" fill="#fff" stroke="#7d7d7d" stroke-width="1.3"/>
<rect x="455.71" y="402.61" width="4.18" height="4.18" fill="#fff" stroke="#7d7d7d" stroke-width="1.3"/>
<rect x="468.01" y="385.61" width="4.18" height="4.18" fill="#fff" stroke="#7d7d7d" stroke-width="1.3"/>
<line x1="380.10" y1="370.20" x2="380.10" y2="405.60" stroke="#7d7d7d" stroke-width="1.2"/>
<line x1="378.10" y1="370.20" x2="382.10" y2="370.20" stroke="#7d7d7d" stroke-width="1.2"/>
<line x1="378.10" y1="405.60" x2="382.10" y2="405.60" stroke="#7d7d7d" stroke-width="1.2"/>
<line x1="392.90" y1="412.30" x2="392.90" y2="421.80" stroke="#7d7d7d" stroke-width="1.2"/>
<line x1="390.90" y1="412.30" x2="394.90" y2="412.30" stroke="#7d7d7d" stroke-width="1.2"/>
<line x1="390.90" y1="421.80" x2="394.90" y2="421.80" stroke="#7d7d7d" stroke-width="1.2"/>
<line x1="406.20" y1="411.40" x2="406.20" y2="436.90" stroke="#7d7d7d" stroke-width="1.2"/>
<line x1="404.20" y1="411.40" x2="408.20" y2="411.40" stroke="#7d7d7d" stroke-width="1.2"/>
<line x1="404.20" y1="436.90" x2="408.20" y2="436.90" stroke="#7d7d7d" stroke-width="1.2"/>
<line x1="418.90" y1="430.30" x2="418.90" y2="438.80" stroke="#7d7d7d" stroke-width="1.2"/>
<line x1="416.90" y1="430.30" x2="420.90" y2="430.30" stroke="#7d7d7d" stroke-width="1.2"/>
<line x1="416.90" y1="438.80" x2="420.90" y2="438.80" stroke="#7d7d7d" stroke-width="1.2"/>
<polygon points="380.10,381.37 382.63,385.92 377.57,385.92" fill="#fff" stroke="#7d7d7d" stroke-width="1.3"/>
<polygon points="392.90,416.37 395.43,420.92 390.37,420.92" fill="#fff" stroke="#7d7d7d" stroke-width="1.3"/>
<polygon points="406.20,423.07 408.73,427.62 403.67,427.62" fill="#fff" stroke="#7d7d7d" stroke-width="1.3"/>
<polygon points="418.90,431.57 421.43,436.12 416.37,436.12" fill="#fff" stroke="#7d7d7d" stroke-width="1.3"/>
<polygon points="431.70,439.17 434.23,443.72 429.17,443.72" fill="#fff" stroke="#7d7d7d" stroke-width="1.3"/>
<polygon points="444.60,443.97 447.13,448.52 442.07,448.52" fill="#fff" stroke="#7d7d7d" stroke-width="1.3"/>
<polygon points="457.80,446.47 460.33,451.02 455.27,451.02" fill="#fff" stroke="#7d7d7d" stroke-width="1.3"/>
<polygon points="470.10,447.47 472.63,452.02 467.57,452.02" fill="#fff" stroke="#7d7d7d" stroke-width="1.3"/>
<rect x="378.01" y="396.31" width="4.18" height="4.18" fill="#333"/>
<rect x="390.81" y="396.31" width="4.18" height="4.18" fill="#333"/>
<rect x="404.11" y="396.31" width="4.18" height="4.18" fill="#333"/>
<line x1="380.10" y1="383.00" x2="380.10" y2="395.30" stroke="#111" stroke-width="1.2"/>
<line x1="378.10" y1="383.00" x2="382.10" y2="383.00" stroke="#111" stroke-width="1.2"/>
<line x1="378.10" y1="395.30" x2="382.10" y2="395.30" stroke="#111" stroke-width="1.2"/>
<line x1="392.90" y1="383.00" x2="392.90" y2="400.00" stroke="#111" stroke-width="1.2"/>
<line x1="390.90" y1="383.00" x2="394.90" y2="383.00" stroke="#111" stroke-width="1.2"/>
<line x1="390.90" y1="400.00" x2="394.90" y2="400.00" stroke="#111" stroke-width="1.2"/>
<line x1="406.20" y1="398.10" x2="406.20" y2="405.70" stroke="#111" stroke-width="1.2"/>
<line x1="404.20" y1="398.10" x2="408.20" y2="398.10" stroke="#111" stroke-width="1.2"/>
<line x1="404.20" y1="405.70" x2="408.20" y2="405.70" stroke="#111" stroke-width="1.2"/>
<line x1="418.90" y1="416.10" x2="418.90" y2="428.40" stroke="#111" stroke-width="1.2"/>
<line x1="416.90" y1="416.10" x2="420.90" y2="416.10" stroke="#111" stroke-width="1.2"/>
<line x1="416.90" y1="428.40" x2="420.90" y2="428.40" stroke="#111" stroke-width="1.2"/>
<line x1="431.70" y1="430.30" x2="431.70" y2="443.50" stroke="#111" stroke-width="1.2"/>
<line x1="429.70" y1="430.30" x2="433.70" y2="430.30" stroke="#111" stroke-width="1.2"/>
<line x1="429.70" y1="443.50" x2="433.70" y2="443.50" stroke="#111" stroke-width="1.2"/>
<line x1="444.60" y1="440.70" x2="444.60" y2="448.20" stroke="#111" stroke-width="1.2"/>
<line x1="442.60" y1="440.70" x2="446.60" y2="440.70" stroke="#111" stroke-width="1.2"/>
<line x1="442.60" y1="448.20" x2="446.60" y2="448.20" stroke="#111" stroke-width="1.2"/>
<circle cx="380.10" cy="390.60" r="2.4" fill="#fff" stroke="#111" stroke-width="1.4"/>
<circle cx="392.90" cy="391.90" r="2.4" fill="#fff" stroke="#111" stroke-width="1.4"/>
<circle cx="406.20" cy="401.90" r="2.4" fill="#fff" stroke="#111" stroke-width="1.4"/>
<circle cx="418.90" cy="422.20" r="2.4" fill="#fff" stroke="#111" stroke-width="1.4"/>
<circle cx="431.70" cy="436.90" r="2.4" fill="#fff" stroke="#111" stroke-width="1.4"/>
<circle cx="444.60" cy="444.50" r="2.4" fill="#fff" stroke="#111" stroke-width="1.4"/>
<circle cx="457.80" cy="447.90" r="2.4" fill="#fff" stroke="#111" stroke-width="1.4"/>
<circle cx="470.10" cy="449.50" r="2.4" fill="#fff" stroke="#111" stroke-width="1.4"/>
</svg>
</body></html>
